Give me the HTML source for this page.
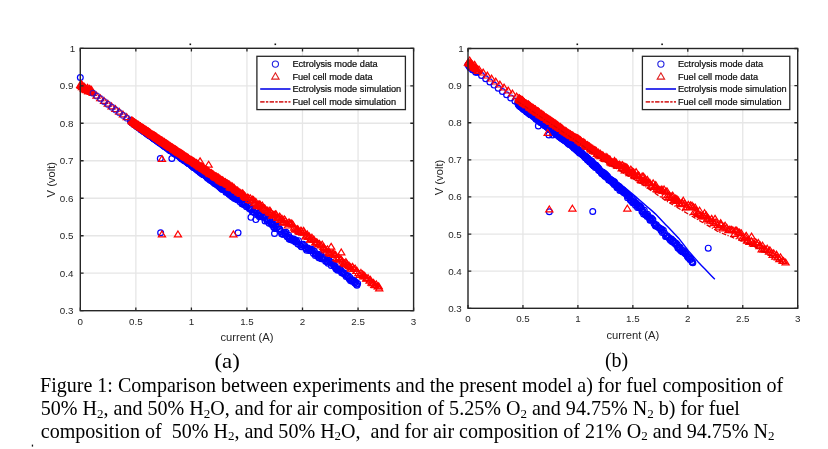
<!DOCTYPE html>
<html><head><meta charset="utf-8"><style>
html,body{margin:0;padding:0;background:#fff;width:828px;height:449px;overflow:hidden;position:relative}
.cap{position:absolute;left:40px;font-family:"Liberation Serif","Times New Roman",serif;font-size:20.06px;line-height:20px;color:#000;white-space:pre}
.cap sub{font-size:13px;vertical-align:baseline;position:relative;top:2.6px;line-height:0}
.c2{left:40.8px}
</style></head><body>
<svg width="828" height="449" viewBox="0 0 828 449" style="position:absolute;left:0;top:0">
<path d="M135.85 48.3V310.7M191.4 48.3V310.7M246.95 48.3V310.7M302.5 48.3V310.7M358.05 48.3V310.7M80.3 273.21H413.6M80.3 235.73H413.6M80.3 198.24H413.6M80.3 160.76H413.6M80.3 123.27H413.6M80.3 85.79H413.6" stroke="#e6e6e6" stroke-width="1.3" fill="none"/>
<g fill="none" stroke="#0000ff" stroke-width="1.2">
<circle cx="130.42" cy="120.38" r="2.9"/>
<circle cx="130.72" cy="120.26" r="2.9"/>
<circle cx="130.89" cy="121.5" r="2.9"/>
<circle cx="131.04" cy="121.01" r="2.9"/>
<circle cx="131.17" cy="121.67" r="2.9"/>
<circle cx="131.35" cy="121.42" r="2.9"/>
<circle cx="131.65" cy="121.91" r="2.9"/>
<circle cx="131.8" cy="122.38" r="2.9"/>
<circle cx="132.04" cy="122.58" r="2.9"/>
<circle cx="132.3" cy="122.72" r="2.9"/>
<circle cx="132.49" cy="121.8" r="2.9"/>
<circle cx="132.72" cy="122.62" r="2.9"/>
<circle cx="132.85" cy="123.15" r="2.9"/>
<circle cx="132.97" cy="122.19" r="2.9"/>
<circle cx="133.13" cy="122.18" r="2.9"/>
<circle cx="133.4" cy="123.24" r="2.9"/>
<circle cx="133.6" cy="123.89" r="2.9"/>
<circle cx="133.79" cy="123.95" r="2.9"/>
<circle cx="134.03" cy="124.31" r="2.9"/>
<circle cx="134.24" cy="124.09" r="2.9"/>
<circle cx="134.42" cy="124.63" r="2.9"/>
<circle cx="134.71" cy="124.63" r="2.9"/>
<circle cx="134.98" cy="124.82" r="2.9"/>
<circle cx="135.15" cy="124.47" r="2.9"/>
<circle cx="135.39" cy="124.17" r="2.9"/>
<circle cx="135.62" cy="124.57" r="2.9"/>
<circle cx="135.93" cy="125.34" r="2.9"/>
<circle cx="136.21" cy="125.54" r="2.9"/>
<circle cx="136.39" cy="125.49" r="2.9"/>
<circle cx="136.72" cy="125.96" r="2.9"/>
<circle cx="136.86" cy="126.12" r="2.9"/>
<circle cx="137.07" cy="126.7" r="2.9"/>
<circle cx="137.35" cy="126.57" r="2.9"/>
<circle cx="137.5" cy="125.59" r="2.9"/>
<circle cx="137.72" cy="127.07" r="2.9"/>
<circle cx="137.84" cy="126.57" r="2.9"/>
<circle cx="138.11" cy="126.56" r="2.9"/>
<circle cx="138.39" cy="126.39" r="2.9"/>
<circle cx="138.64" cy="127.59" r="2.9"/>
<circle cx="138.95" cy="127.72" r="2.9"/>
<circle cx="139.13" cy="127.89" r="2.9"/>
<circle cx="139.41" cy="127.85" r="2.9"/>
<circle cx="139.65" cy="127.95" r="2.9"/>
<circle cx="139.9" cy="127.32" r="2.9"/>
<circle cx="140.12" cy="127.65" r="2.9"/>
<circle cx="140.42" cy="127.82" r="2.9"/>
<circle cx="140.75" cy="129.41" r="2.9"/>
<circle cx="140.97" cy="129.55" r="2.9"/>
<circle cx="141.24" cy="128.67" r="2.9"/>
<circle cx="141.37" cy="128.46" r="2.9"/>
<circle cx="141.64" cy="129.33" r="2.9"/>
<circle cx="141.9" cy="129.34" r="2.9"/>
<circle cx="142.24" cy="130.52" r="2.9"/>
<circle cx="142.55" cy="130.11" r="2.9"/>
<circle cx="142.73" cy="129.38" r="2.9"/>
<circle cx="142.93" cy="129.69" r="2.9"/>
<circle cx="143.2" cy="129.83" r="2.9"/>
<circle cx="143.32" cy="129.73" r="2.9"/>
<circle cx="143.54" cy="131.05" r="2.9"/>
<circle cx="143.69" cy="131.38" r="2.9"/>
<circle cx="143.83" cy="131.41" r="2.9"/>
<circle cx="143.96" cy="130.91" r="2.9"/>
<circle cx="144.25" cy="130.86" r="2.9"/>
<circle cx="144.4" cy="130.55" r="2.9"/>
<circle cx="144.57" cy="131.02" r="2.9"/>
<circle cx="144.77" cy="131.29" r="2.9"/>
<circle cx="145.09" cy="131.33" r="2.9"/>
<circle cx="145.22" cy="131.92" r="2.9"/>
<circle cx="145.44" cy="131.92" r="2.9"/>
<circle cx="145.68" cy="132.92" r="2.9"/>
<circle cx="146" cy="131.95" r="2.9"/>
<circle cx="146.31" cy="133.06" r="2.9"/>
<circle cx="146.62" cy="132.17" r="2.9"/>
<circle cx="146.8" cy="132.74" r="2.9"/>
<circle cx="147.01" cy="133.45" r="2.9"/>
<circle cx="147.21" cy="133.88" r="2.9"/>
<circle cx="147.53" cy="133.91" r="2.9"/>
<circle cx="147.87" cy="133.52" r="2.9"/>
<circle cx="148.02" cy="133.53" r="2.9"/>
<circle cx="148.18" cy="134.6" r="2.9"/>
<circle cx="148.35" cy="134.79" r="2.9"/>
<circle cx="148.52" cy="134.17" r="2.9"/>
<circle cx="148.75" cy="134.24" r="2.9"/>
<circle cx="149" cy="134.74" r="2.9"/>
<circle cx="149.18" cy="135.13" r="2.9"/>
<circle cx="149.3" cy="134.6" r="2.9"/>
<circle cx="149.51" cy="135.72" r="2.9"/>
<circle cx="149.71" cy="135.39" r="2.9"/>
<circle cx="149.96" cy="135.3" r="2.9"/>
<circle cx="150.3" cy="134.73" r="2.9"/>
<circle cx="150.58" cy="135.44" r="2.9"/>
<circle cx="150.82" cy="135.22" r="2.9"/>
<circle cx="151.08" cy="136.08" r="2.9"/>
<circle cx="151.35" cy="136.67" r="2.9"/>
<circle cx="151.48" cy="136.74" r="2.9"/>
<circle cx="151.81" cy="135.8" r="2.9"/>
<circle cx="152.11" cy="136.44" r="2.9"/>
<circle cx="152.43" cy="137.33" r="2.9"/>
<circle cx="152.74" cy="138.02" r="2.9"/>
<circle cx="152.95" cy="137.38" r="2.9"/>
<circle cx="153.16" cy="137.24" r="2.9"/>
<circle cx="153.3" cy="137.76" r="2.9"/>
<circle cx="153.57" cy="138.22" r="2.9"/>
<circle cx="153.7" cy="137.63" r="2.9"/>
<circle cx="153.83" cy="137.3" r="2.9"/>
<circle cx="154" cy="138.58" r="2.9"/>
<circle cx="154.15" cy="139.01" r="2.9"/>
<circle cx="154.35" cy="138.65" r="2.9"/>
<circle cx="154.48" cy="138.61" r="2.9"/>
<circle cx="154.6" cy="138.25" r="2.9"/>
<circle cx="154.75" cy="139.17" r="2.9"/>
<circle cx="154.9" cy="138.27" r="2.9"/>
<circle cx="155.1" cy="138.52" r="2.9"/>
<circle cx="155.22" cy="139" r="2.9"/>
<circle cx="155.55" cy="139.73" r="2.9"/>
<circle cx="155.81" cy="138.64" r="2.9"/>
<circle cx="155.97" cy="139.85" r="2.9"/>
<circle cx="156.14" cy="139.13" r="2.9"/>
<circle cx="156.35" cy="140.26" r="2.9"/>
<circle cx="156.55" cy="140.42" r="2.9"/>
<circle cx="156.7" cy="139.62" r="2.9"/>
<circle cx="157.02" cy="140.63" r="2.9"/>
<circle cx="157.37" cy="139.78" r="2.9"/>
<circle cx="157.6" cy="140.71" r="2.9"/>
<circle cx="157.84" cy="141.4" r="2.9"/>
<circle cx="157.98" cy="141.44" r="2.9"/>
<circle cx="158.12" cy="141.21" r="2.9"/>
<circle cx="158.32" cy="140.94" r="2.9"/>
<circle cx="158.5" cy="140.59" r="2.9"/>
<circle cx="158.82" cy="142.17" r="2.9"/>
<circle cx="158.98" cy="141.87" r="2.9"/>
<circle cx="159.1" cy="142.26" r="2.9"/>
<circle cx="159.45" cy="141.22" r="2.9"/>
<circle cx="159.69" cy="142.81" r="2.9"/>
<circle cx="159.85" cy="143.07" r="2.9"/>
<circle cx="160.1" cy="143.24" r="2.9"/>
<circle cx="160.22" cy="142.76" r="2.9"/>
<circle cx="160.47" cy="142.08" r="2.9"/>
<circle cx="160.82" cy="142.36" r="2.9"/>
<circle cx="161.15" cy="142.85" r="2.9"/>
<circle cx="161.44" cy="142.6" r="2.9"/>
<circle cx="161.62" cy="142.84" r="2.9"/>
<circle cx="161.83" cy="144.02" r="2.9"/>
<circle cx="161.99" cy="144.38" r="2.9"/>
<circle cx="162.29" cy="143.32" r="2.9"/>
<circle cx="162.54" cy="143.82" r="2.9"/>
<circle cx="162.85" cy="145.26" r="2.9"/>
<circle cx="163.05" cy="144.32" r="2.9"/>
<circle cx="163.23" cy="144.94" r="2.9"/>
<circle cx="163.54" cy="145.17" r="2.9"/>
<circle cx="163.9" cy="145.5" r="2.9"/>
<circle cx="164.23" cy="146.01" r="2.9"/>
<circle cx="164.54" cy="146.53" r="2.9"/>
<circle cx="164.86" cy="146.28" r="2.9"/>
<circle cx="165.16" cy="146.37" r="2.9"/>
<circle cx="165.34" cy="145.45" r="2.9"/>
<circle cx="165.59" cy="147.07" r="2.9"/>
<circle cx="165.79" cy="145.76" r="2.9"/>
<circle cx="165.92" cy="147.16" r="2.9"/>
<circle cx="166.05" cy="147" r="2.9"/>
<circle cx="166.24" cy="146.33" r="2.9"/>
<circle cx="166.42" cy="146.46" r="2.9"/>
<circle cx="166.71" cy="147.34" r="2.9"/>
<circle cx="167.07" cy="148.26" r="2.9"/>
<circle cx="167.3" cy="147.69" r="2.9"/>
<circle cx="167.65" cy="148.11" r="2.9"/>
<circle cx="168.01" cy="147.42" r="2.9"/>
<circle cx="168.37" cy="148.94" r="2.9"/>
<circle cx="168.58" cy="148.79" r="2.9"/>
<circle cx="168.76" cy="147.99" r="2.9"/>
<circle cx="168.93" cy="149.63" r="2.9"/>
<circle cx="169.11" cy="149.09" r="2.9"/>
<circle cx="169.28" cy="148.51" r="2.9"/>
<circle cx="169.55" cy="148.79" r="2.9"/>
<circle cx="169.9" cy="150.3" r="2.9"/>
<circle cx="170.23" cy="150.55" r="2.9"/>
<circle cx="170.47" cy="150.68" r="2.9"/>
<circle cx="170.75" cy="149.37" r="2.9"/>
<circle cx="171.07" cy="150.77" r="2.9"/>
<circle cx="171.21" cy="150.01" r="2.9"/>
<circle cx="171.5" cy="149.94" r="2.9"/>
<circle cx="171.85" cy="151.18" r="2.9"/>
<circle cx="172.16" cy="151.52" r="2.9"/>
<circle cx="172.47" cy="150.53" r="2.9"/>
<circle cx="172.72" cy="151.31" r="2.9"/>
<circle cx="172.88" cy="152.06" r="2.9"/>
<circle cx="173.2" cy="151.48" r="2.9"/>
<circle cx="173.41" cy="152.34" r="2.9"/>
<circle cx="173.73" cy="152.64" r="2.9"/>
<circle cx="174.1" cy="153.38" r="2.9"/>
<circle cx="174.32" cy="152.21" r="2.9"/>
<circle cx="174.54" cy="152.08" r="2.9"/>
<circle cx="174.9" cy="152.84" r="2.9"/>
<circle cx="175.21" cy="152.51" r="2.9"/>
<circle cx="175.37" cy="154.27" r="2.9"/>
<circle cx="175.53" cy="154" r="2.9"/>
<circle cx="175.69" cy="153.69" r="2.9"/>
<circle cx="176.04" cy="153.08" r="2.9"/>
<circle cx="176.37" cy="153.32" r="2.9"/>
<circle cx="176.53" cy="154.45" r="2.9"/>
<circle cx="176.86" cy="154.93" r="2.9"/>
<circle cx="177.23" cy="154.87" r="2.9"/>
<circle cx="177.52" cy="154.96" r="2.9"/>
<circle cx="177.73" cy="154.34" r="2.9"/>
<circle cx="178" cy="155.86" r="2.9"/>
<circle cx="178.16" cy="154.86" r="2.9"/>
<circle cx="178.28" cy="155.07" r="2.9"/>
<circle cx="178.65" cy="155.18" r="2.9"/>
<circle cx="178.94" cy="155.48" r="2.9"/>
<circle cx="179.2" cy="155.96" r="2.9"/>
<circle cx="179.56" cy="156.72" r="2.9"/>
<circle cx="179.8" cy="156.91" r="2.9"/>
<circle cx="180.14" cy="157.08" r="2.9"/>
<circle cx="180.48" cy="156.56" r="2.9"/>
<circle cx="180.66" cy="157.96" r="2.9"/>
<circle cx="180.85" cy="157.88" r="2.9"/>
<circle cx="181.05" cy="157.02" r="2.9"/>
<circle cx="181.24" cy="158.07" r="2.9"/>
<circle cx="181.51" cy="158.6" r="2.9"/>
<circle cx="181.7" cy="158.79" r="2.9"/>
<circle cx="181.94" cy="158.02" r="2.9"/>
<circle cx="182.1" cy="158.54" r="2.9"/>
<circle cx="182.45" cy="157.61" r="2.9"/>
<circle cx="182.67" cy="157.94" r="2.9"/>
<circle cx="182.91" cy="157.92" r="2.9"/>
<circle cx="183.19" cy="159.44" r="2.9"/>
<circle cx="183.55" cy="160.02" r="2.9"/>
<circle cx="183.78" cy="160.17" r="2.9"/>
<circle cx="184.14" cy="159.69" r="2.9"/>
<circle cx="184.4" cy="159.49" r="2.9"/>
<circle cx="184.66" cy="160.16" r="2.9"/>
<circle cx="184.92" cy="160.74" r="2.9"/>
<circle cx="185.06" cy="160.5" r="2.9"/>
<circle cx="185.3" cy="160.29" r="2.9"/>
<circle cx="185.47" cy="160.32" r="2.9"/>
<circle cx="185.6" cy="160.28" r="2.9"/>
<circle cx="185.93" cy="160.33" r="2.9"/>
<circle cx="186.11" cy="160.79" r="2.9"/>
<circle cx="186.36" cy="161.97" r="2.9"/>
<circle cx="186.67" cy="160.87" r="2.9"/>
<circle cx="186.94" cy="162.07" r="2.9"/>
<circle cx="187.15" cy="161.72" r="2.9"/>
<circle cx="187.42" cy="162.27" r="2.9"/>
<circle cx="187.69" cy="161.78" r="2.9"/>
<circle cx="188.02" cy="163.02" r="2.9"/>
<circle cx="188.18" cy="163.04" r="2.9"/>
<circle cx="188.45" cy="163.24" r="2.9"/>
<circle cx="188.64" cy="163.55" r="2.9"/>
<circle cx="188.84" cy="162.34" r="2.9"/>
<circle cx="189.17" cy="163.14" r="2.9"/>
<circle cx="189.43" cy="163.8" r="2.9"/>
<circle cx="189.71" cy="163.86" r="2.9"/>
<circle cx="190.03" cy="162.98" r="2.9"/>
<circle cx="190.4" cy="164.15" r="2.9"/>
<circle cx="190.65" cy="164.84" r="2.9"/>
<circle cx="190.94" cy="163.97" r="2.9"/>
<circle cx="191.2" cy="164.45" r="2.9"/>
<circle cx="191.46" cy="164" r="2.9"/>
<circle cx="191.77" cy="165.91" r="2.9"/>
<circle cx="192.02" cy="165.38" r="2.9"/>
<circle cx="192.29" cy="164.91" r="2.9"/>
<circle cx="192.54" cy="165.05" r="2.9"/>
<circle cx="192.92" cy="165.16" r="2.9"/>
<circle cx="193.23" cy="167.14" r="2.9"/>
<circle cx="193.59" cy="166.9" r="2.9"/>
<circle cx="193.97" cy="167.55" r="2.9"/>
<circle cx="194.17" cy="167.55" r="2.9"/>
<circle cx="194.45" cy="166.1" r="2.9"/>
<circle cx="194.83" cy="167.2" r="2.9"/>
<circle cx="195.18" cy="166.7" r="2.9"/>
<circle cx="195.35" cy="168.04" r="2.9"/>
<circle cx="195.51" cy="167.07" r="2.9"/>
<circle cx="195.76" cy="168.17" r="2.9"/>
<circle cx="195.91" cy="168.7" r="2.9"/>
<circle cx="196.11" cy="167.69" r="2.9"/>
<circle cx="196.26" cy="167.42" r="2.9"/>
<circle cx="196.57" cy="169.55" r="2.9"/>
<circle cx="196.91" cy="168.67" r="2.9"/>
<circle cx="197.28" cy="168.88" r="2.9"/>
<circle cx="197.45" cy="169.95" r="2.9"/>
<circle cx="197.77" cy="169.84" r="2.9"/>
<circle cx="198.08" cy="170.61" r="2.9"/>
<circle cx="198.25" cy="170.59" r="2.9"/>
<circle cx="198.62" cy="170.74" r="2.9"/>
<circle cx="199.01" cy="170.18" r="2.9"/>
<circle cx="199.2" cy="170.19" r="2.9"/>
<circle cx="199.58" cy="171.59" r="2.9"/>
<circle cx="199.82" cy="172.26" r="2.9"/>
<circle cx="200.09" cy="171.65" r="2.9"/>
<circle cx="200.48" cy="171.04" r="2.9"/>
<circle cx="200.84" cy="172.59" r="2.9"/>
<circle cx="201.02" cy="172.38" r="2.9"/>
<circle cx="201.27" cy="172.86" r="2.9"/>
<circle cx="201.54" cy="171.48" r="2.9"/>
<circle cx="201.76" cy="172.3" r="2.9"/>
<circle cx="201.95" cy="173.75" r="2.9"/>
<circle cx="202.17" cy="173.81" r="2.9"/>
<circle cx="202.5" cy="173.26" r="2.9"/>
<circle cx="202.64" cy="172.93" r="2.9"/>
<circle cx="202.92" cy="172.89" r="2.9"/>
<circle cx="203.17" cy="174.61" r="2.9"/>
<circle cx="203.31" cy="174.51" r="2.9"/>
<circle cx="203.54" cy="173.17" r="2.9"/>
<circle cx="203.84" cy="174.2" r="2.9"/>
<circle cx="204.11" cy="174.77" r="2.9"/>
<circle cx="204.27" cy="174.81" r="2.9"/>
<circle cx="204.67" cy="173.23" r="2.9"/>
<circle cx="205.02" cy="175.36" r="2.9"/>
<circle cx="205.41" cy="174.9" r="2.9"/>
<circle cx="205.58" cy="175.64" r="2.9"/>
<circle cx="205.79" cy="175.62" r="2.9"/>
<circle cx="205.93" cy="174.37" r="2.9"/>
<circle cx="206.28" cy="174.21" r="2.9"/>
<circle cx="206.49" cy="176.29" r="2.9"/>
<circle cx="206.66" cy="176.93" r="2.9"/>
<circle cx="206.91" cy="175.48" r="2.9"/>
<circle cx="207.3" cy="177.39" r="2.9"/>
<circle cx="207.66" cy="178.29" r="2.9"/>
<circle cx="207.86" cy="175.6" r="2.9"/>
<circle cx="208.04" cy="177.25" r="2.9"/>
<circle cx="208.43" cy="176.26" r="2.9"/>
<circle cx="208.72" cy="177.81" r="2.9"/>
<circle cx="209.05" cy="176.49" r="2.9"/>
<circle cx="209.21" cy="177.99" r="2.9"/>
<circle cx="209.36" cy="179.08" r="2.9"/>
<circle cx="209.69" cy="179.82" r="2.9"/>
<circle cx="209.94" cy="178.22" r="2.9"/>
<circle cx="210.1" cy="178.04" r="2.9"/>
<circle cx="210.5" cy="177.41" r="2.9"/>
<circle cx="210.81" cy="180.42" r="2.9"/>
<circle cx="211.17" cy="178.87" r="2.9"/>
<circle cx="211.33" cy="179.85" r="2.9"/>
<circle cx="211.7" cy="179.66" r="2.9"/>
<circle cx="211.86" cy="181.02" r="2.9"/>
<circle cx="212.23" cy="180.83" r="2.9"/>
<circle cx="212.5" cy="180.18" r="2.9"/>
<circle cx="212.73" cy="178.91" r="2.9"/>
<circle cx="213.02" cy="182.04" r="2.9"/>
<circle cx="213.42" cy="180.96" r="2.9"/>
<circle cx="213.63" cy="179.98" r="2.9"/>
<circle cx="213.81" cy="179.51" r="2.9"/>
<circle cx="214.09" cy="182.53" r="2.9"/>
<circle cx="214.3" cy="182.94" r="2.9"/>
<circle cx="214.47" cy="180.06" r="2.9"/>
<circle cx="214.66" cy="180.07" r="2.9"/>
<circle cx="214.81" cy="182.01" r="2.9"/>
<circle cx="215.01" cy="183.76" r="2.9"/>
<circle cx="215.24" cy="180.66" r="2.9"/>
<circle cx="215.47" cy="182.85" r="2.9"/>
<circle cx="215.84" cy="181.15" r="2.9"/>
<circle cx="216.07" cy="182.4" r="2.9"/>
<circle cx="216.36" cy="181.82" r="2.9"/>
<circle cx="216.56" cy="184.52" r="2.9"/>
<circle cx="216.8" cy="182.29" r="2.9"/>
<circle cx="216.96" cy="184.59" r="2.9"/>
<circle cx="217.18" cy="184.04" r="2.9"/>
<circle cx="217.33" cy="182.42" r="2.9"/>
<circle cx="217.7" cy="182.75" r="2.9"/>
<circle cx="218.02" cy="185.54" r="2.9"/>
<circle cx="218.23" cy="185.55" r="2.9"/>
<circle cx="218.52" cy="185.05" r="2.9"/>
<circle cx="218.96" cy="184.89" r="2.9"/>
<circle cx="219.15" cy="185.58" r="2.9"/>
<circle cx="219.56" cy="186.94" r="2.9"/>
<circle cx="219.85" cy="186.65" r="2.9"/>
<circle cx="220.16" cy="184.91" r="2.9"/>
<circle cx="220.58" cy="184.49" r="2.9"/>
<circle cx="220.87" cy="188.28" r="2.9"/>
<circle cx="221.19" cy="186.33" r="2.9"/>
<circle cx="221.58" cy="185.78" r="2.9"/>
<circle cx="222.06" cy="189.21" r="2.9"/>
<circle cx="222.34" cy="185.97" r="2.9"/>
<circle cx="222.78" cy="189.41" r="2.9"/>
<circle cx="223.19" cy="187.61" r="2.9"/>
<circle cx="223.57" cy="188.11" r="2.9"/>
<circle cx="223.88" cy="187.99" r="2.9"/>
<circle cx="224.17" cy="189.63" r="2.9"/>
<circle cx="224.36" cy="189.26" r="2.9"/>
<circle cx="224.58" cy="188.69" r="2.9"/>
<circle cx="224.78" cy="189.54" r="2.9"/>
<circle cx="225.22" cy="188.81" r="2.9"/>
<circle cx="225.49" cy="189.96" r="2.9"/>
<circle cx="225.72" cy="190.17" r="2.9"/>
<circle cx="225.93" cy="192.2" r="2.9"/>
<circle cx="226.42" cy="189.86" r="2.9"/>
<circle cx="226.92" cy="190.81" r="2.9"/>
<circle cx="227.35" cy="192.28" r="2.9"/>
<circle cx="227.64" cy="190.1" r="2.9"/>
<circle cx="227.92" cy="190.23" r="2.9"/>
<circle cx="228.22" cy="191.91" r="2.9"/>
<circle cx="228.59" cy="193.44" r="2.9"/>
<circle cx="228.85" cy="192.29" r="2.9"/>
<circle cx="229.21" cy="194.23" r="2.9"/>
<circle cx="229.51" cy="194.35" r="2.9"/>
<circle cx="230.09" cy="193.4" r="2.9"/>
<circle cx="230.68" cy="195.38" r="2.9"/>
<circle cx="231.11" cy="194.09" r="2.9"/>
<circle cx="231.42" cy="194" r="2.9"/>
<circle cx="232.03" cy="196.6" r="2.9"/>
<circle cx="232.37" cy="194.11" r="2.9"/>
<circle cx="232.74" cy="196.93" r="2.9"/>
<circle cx="232.96" cy="194.09" r="2.9"/>
<circle cx="233.34" cy="194.17" r="2.9"/>
<circle cx="233.77" cy="195.71" r="2.9"/>
<circle cx="234.22" cy="198.15" r="2.9"/>
<circle cx="234.53" cy="196.3" r="2.9"/>
<circle cx="234.99" cy="197.22" r="2.9"/>
<circle cx="235.23" cy="194.73" r="2.9"/>
<circle cx="235.58" cy="198.77" r="2.9"/>
<circle cx="235.86" cy="195.63" r="2.9"/>
<circle cx="236.29" cy="195.29" r="2.9"/>
<circle cx="236.55" cy="196.71" r="2.9"/>
<circle cx="236.81" cy="196.51" r="2.9"/>
<circle cx="237.2" cy="199.69" r="2.9"/>
<circle cx="237.57" cy="196.28" r="2.9"/>
<circle cx="238.12" cy="198.96" r="2.9"/>
<circle cx="238.64" cy="197.17" r="2.9"/>
<circle cx="239.3" cy="197.84" r="2.9"/>
<circle cx="239.92" cy="201.82" r="2.9"/>
<circle cx="240.59" cy="199.37" r="2.9"/>
<circle cx="241.36" cy="199.26" r="2.9"/>
<circle cx="241.88" cy="203.72" r="2.9"/>
<circle cx="242.36" cy="202.73" r="2.9"/>
<circle cx="243.26" cy="201.46" r="2.9"/>
<circle cx="243.66" cy="204.59" r="2.9"/>
<circle cx="244.44" cy="201.65" r="2.9"/>
<circle cx="245.19" cy="205.16" r="2.9"/>
<circle cx="245.57" cy="202.85" r="2.9"/>
<circle cx="246.49" cy="206.74" r="2.9"/>
<circle cx="247.5" cy="205.77" r="2.9"/>
<circle cx="248.33" cy="204.38" r="2.9"/>
<circle cx="249.25" cy="208.5" r="2.9"/>
<circle cx="250.23" cy="208.97" r="2.9"/>
<circle cx="250.71" cy="208.15" r="2.9"/>
<circle cx="251.47" cy="209.63" r="2.9"/>
<circle cx="252.22" cy="211.57" r="2.9"/>
<circle cx="253.22" cy="211.62" r="2.9"/>
<circle cx="254.21" cy="212.46" r="2.9"/>
<circle cx="255.2" cy="209.41" r="2.9"/>
<circle cx="256.02" cy="211.28" r="2.9"/>
<circle cx="257.08" cy="211.01" r="2.9"/>
<circle cx="257.98" cy="215.27" r="2.9"/>
<circle cx="258.88" cy="212.9" r="2.9"/>
<circle cx="259.44" cy="216.64" r="2.9"/>
<circle cx="259.85" cy="214.88" r="2.9"/>
<circle cx="260.33" cy="214.72" r="2.9"/>
<circle cx="260.99" cy="216.59" r="2.9"/>
<circle cx="261.45" cy="214.38" r="2.9"/>
<circle cx="262.48" cy="216.73" r="2.9"/>
<circle cx="263.29" cy="217.22" r="2.9"/>
<circle cx="264.16" cy="216.35" r="2.9"/>
<circle cx="265.03" cy="220.92" r="2.9"/>
<circle cx="265.95" cy="217.12" r="2.9"/>
<circle cx="266.71" cy="219.53" r="2.9"/>
<circle cx="267.11" cy="221.01" r="2.9"/>
<circle cx="268.12" cy="219.72" r="2.9"/>
<circle cx="269.09" cy="223.16" r="2.9"/>
<circle cx="269.87" cy="220.05" r="2.9"/>
<circle cx="270.69" cy="222.77" r="2.9"/>
<circle cx="271.6" cy="224.56" r="2.9"/>
<circle cx="272.04" cy="222.82" r="2.9"/>
<circle cx="273.02" cy="225.21" r="2.9"/>
<circle cx="273.61" cy="227.02" r="2.9"/>
<circle cx="274.06" cy="224.44" r="2.9"/>
<circle cx="274.67" cy="228.49" r="2.9"/>
<circle cx="275.65" cy="225.22" r="2.9"/>
<circle cx="276.21" cy="228.58" r="2.9"/>
<circle cx="277.2" cy="227.32" r="2.9"/>
<circle cx="278.37" cy="226.4" r="2.9"/>
<circle cx="279.17" cy="229.07" r="2.9"/>
<circle cx="279.88" cy="229.2" r="2.9"/>
<circle cx="280.67" cy="231.58" r="2.9"/>
<circle cx="281.62" cy="233.85" r="2.9"/>
<circle cx="282.64" cy="234.37" r="2.9"/>
<circle cx="283.55" cy="234.37" r="2.9"/>
<circle cx="284.48" cy="232.59" r="2.9"/>
<circle cx="284.95" cy="233.86" r="2.9"/>
<circle cx="285.47" cy="233.81" r="2.9"/>
<circle cx="286.09" cy="232.27" r="2.9"/>
<circle cx="287.11" cy="236.86" r="2.9"/>
<circle cx="287.76" cy="236.82" r="2.9"/>
<circle cx="288.64" cy="235.26" r="2.9"/>
<circle cx="289.06" cy="238.73" r="2.9"/>
<circle cx="289.53" cy="239.14" r="2.9"/>
<circle cx="290.16" cy="237.79" r="2.9"/>
<circle cx="291.13" cy="239.7" r="2.9"/>
<circle cx="292.12" cy="239.11" r="2.9"/>
<circle cx="293.09" cy="240.43" r="2.9"/>
<circle cx="293.75" cy="239.1" r="2.9"/>
<circle cx="294.6" cy="239.65" r="2.9"/>
<circle cx="295.41" cy="242.09" r="2.9"/>
<circle cx="296.22" cy="240.59" r="2.9"/>
<circle cx="296.74" cy="241.67" r="2.9"/>
<circle cx="297.91" cy="244.12" r="2.9"/>
<circle cx="298.5" cy="240.64" r="2.9"/>
<circle cx="299.75" cy="244.83" r="2.9"/>
<circle cx="300.97" cy="246.11" r="2.9"/>
<circle cx="301.41" cy="246.66" r="2.9"/>
<circle cx="302.22" cy="244.63" r="2.9"/>
<circle cx="303.35" cy="244.25" r="2.9"/>
<circle cx="304.6" cy="245.45" r="2.9"/>
<circle cx="305.4" cy="247.73" r="2.9"/>
<circle cx="306.04" cy="248.77" r="2.9"/>
<circle cx="306.63" cy="250.32" r="2.9"/>
<circle cx="307.83" cy="248.12" r="2.9"/>
<circle cx="308.42" cy="248.86" r="2.9"/>
<circle cx="309.31" cy="250.39" r="2.9"/>
<circle cx="309.83" cy="249.36" r="2.9"/>
<circle cx="310.66" cy="250.8" r="2.9"/>
<circle cx="311.84" cy="249.29" r="2.9"/>
<circle cx="312.35" cy="250.53" r="2.9"/>
<circle cx="313.4" cy="253.38" r="2.9"/>
<circle cx="314.21" cy="250.94" r="2.9"/>
<circle cx="315.3" cy="255.45" r="2.9"/>
<circle cx="316.25" cy="253.87" r="2.9"/>
<circle cx="316.82" cy="254.78" r="2.9"/>
<circle cx="317.9" cy="256.18" r="2.9"/>
<circle cx="318.67" cy="257.42" r="2.9"/>
<circle cx="319.07" cy="254.56" r="2.9"/>
<circle cx="319.46" cy="258.1" r="2.9"/>
<circle cx="320.21" cy="256.25" r="2.9"/>
<circle cx="320.94" cy="255.05" r="2.9"/>
<circle cx="321.55" cy="258.81" r="2.9"/>
<circle cx="322.03" cy="258.87" r="2.9"/>
<circle cx="322.66" cy="257.54" r="2.9"/>
<circle cx="323.28" cy="258.34" r="2.9"/>
<circle cx="324.28" cy="258.41" r="2.9"/>
<circle cx="324.65" cy="257.93" r="2.9"/>
<circle cx="325.58" cy="261.13" r="2.9"/>
<circle cx="326.57" cy="261.19" r="2.9"/>
<circle cx="327.03" cy="261.51" r="2.9"/>
<circle cx="328.08" cy="263.17" r="2.9"/>
<circle cx="328.98" cy="260.37" r="2.9"/>
<circle cx="330.02" cy="261.44" r="2.9"/>
<circle cx="330.61" cy="262.14" r="2.9"/>
<circle cx="331.25" cy="265.44" r="2.9"/>
<circle cx="331.91" cy="262.71" r="2.9"/>
<circle cx="333.02" cy="264" r="2.9"/>
<circle cx="333.83" cy="265.73" r="2.9"/>
<circle cx="334.47" cy="265.2" r="2.9"/>
<circle cx="335.16" cy="266.85" r="2.9"/>
<circle cx="335.73" cy="268.16" r="2.9"/>
<circle cx="336.14" cy="268.94" r="2.9"/>
<circle cx="336.58" cy="268.82" r="2.9"/>
<circle cx="337.57" cy="270.33" r="2.9"/>
<circle cx="338.15" cy="269.7" r="2.9"/>
<circle cx="339.21" cy="269.05" r="2.9"/>
<circle cx="339.77" cy="269.7" r="2.9"/>
<circle cx="340.34" cy="269.62" r="2.9"/>
<circle cx="341.09" cy="270.72" r="2.9"/>
<circle cx="341.6" cy="272.72" r="2.9"/>
<circle cx="342.24" cy="272.22" r="2.9"/>
<circle cx="343.32" cy="273.51" r="2.9"/>
<circle cx="344.35" cy="273.12" r="2.9"/>
<circle cx="345.32" cy="274.82" r="2.9"/>
<circle cx="346.16" cy="276.38" r="2.9"/>
<circle cx="347.2" cy="275.95" r="2.9"/>
<circle cx="348.27" cy="275.74" r="2.9"/>
<circle cx="349.05" cy="278.85" r="2.9"/>
<circle cx="349.95" cy="277.41" r="2.9"/>
<circle cx="350.36" cy="280.56" r="2.9"/>
<circle cx="351.27" cy="280.49" r="2.9"/>
<circle cx="351.98" cy="281.14" r="2.9"/>
<circle cx="352.9" cy="280.27" r="2.9"/>
<circle cx="353.75" cy="280.33" r="2.9"/>
<circle cx="354.33" cy="281.43" r="2.9"/>
<circle cx="354.74" cy="283.07" r="2.9"/>
<circle cx="355.8" cy="282.22" r="2.9"/>
<circle cx="356.26" cy="284.29" r="2.9"/>
<circle cx="356.98" cy="285.14" r="2.9"/>
<circle cx="357.61" cy="283.62" r="2.9"/>
<circle cx="80.3" cy="77.54" r="2.9"/>
<circle cx="160.29" cy="158.51" r="2.9"/>
<circle cx="171.85" cy="158.51" r="2.9"/>
<circle cx="160.63" cy="232.73" r="2.9"/>
<circle cx="238.06" cy="232.73" r="2.9"/>
<circle cx="250.95" cy="217.36" r="2.9"/>
<circle cx="255.84" cy="219.61" r="2.9"/>
<circle cx="274.5" cy="233.48" r="2.9"/>
</g>
<g fill="none" stroke="#ff0000" stroke-width="1.2">
<path d="M92.74 89.53L96.34 95.37L89.14 95.37Z"/>
<path d="M96.52 92.23L100.12 98.06L92.92 98.06Z"/>
<path d="M100.3 94.92L103.9 100.75L96.7 100.75Z"/>
<path d="M104.08 97.61L107.68 103.44L100.48 103.44Z"/>
<path d="M107.85 100.3L111.45 106.13L104.25 106.13Z"/>
<path d="M111.63 102.99L115.23 108.82L108.03 108.82Z"/>
<path d="M115.41 105.68L119.01 111.51L111.81 111.51Z"/>
<path d="M119.19 108.37L122.78 114.2L115.59 114.2Z"/>
<path d="M122.96 111.06L126.56 116.89L119.36 116.89Z"/>
<path d="M126.74 113.75L130.34 119.58L123.14 119.58Z"/>
<path d="M131.66 117.08L135.26 122.91L128.06 122.91Z"/>
<path d="M131.92 117.7L135.52 123.53L128.32 123.53Z"/>
<path d="M132.18 117.62L135.78 123.45L128.58 123.45Z"/>
<path d="M132.51 117.61L136.11 123.45L128.91 123.45Z"/>
<path d="M132.73 117.78L136.33 123.62L129.13 123.62Z"/>
<path d="M133.03 118.3L136.63 124.13L129.43 124.13Z"/>
<path d="M133.3 118.53L136.9 124.36L129.7 124.36Z"/>
<path d="M133.6 118.67L137.2 124.5L130 124.5Z"/>
<path d="M133.81 119.14L137.41 124.97L130.21 124.97Z"/>
<path d="M134.09 119.34L137.69 125.18L130.49 125.18Z"/>
<path d="M134.33 119.53L137.93 125.36L130.73 125.36Z"/>
<path d="M134.51 119.25L138.11 125.08L130.91 125.08Z"/>
<path d="M134.67 119.64L138.27 125.47L131.07 125.47Z"/>
<path d="M134.92 119.66L138.52 125.5L131.32 125.5Z"/>
<path d="M135.05 119.89L138.65 125.72L131.45 125.72Z"/>
<path d="M135.37 120.03L138.97 125.87L131.77 125.87Z"/>
<path d="M135.51 120.44L139.11 126.27L131.91 126.27Z"/>
<path d="M135.63 120.61L139.23 126.44L132.03 126.44Z"/>
<path d="M135.77 119.94L139.37 125.77L132.17 125.77Z"/>
<path d="M136.09 120.67L139.69 126.5L132.49 126.5Z"/>
<path d="M136.28 121.01L139.88 126.84L132.68 126.84Z"/>
<path d="M136.42 120.68L140.02 126.51L132.82 126.51Z"/>
<path d="M136.54 120.63L140.14 126.46L132.94 126.46Z"/>
<path d="M136.66 121.23L140.26 127.06L133.06 127.06Z"/>
<path d="M136.93 121.04L140.53 126.88L133.33 126.88Z"/>
<path d="M137.19 121.42L140.79 127.25L133.59 127.25Z"/>
<path d="M137.46 121.45L141.06 127.29L133.86 127.29Z"/>
<path d="M137.74 122.05L141.34 127.88L134.14 127.88Z"/>
<path d="M137.87 122.12L141.47 127.96L134.27 127.96Z"/>
<path d="M138.11 121.5L141.71 127.33L134.51 127.33Z"/>
<path d="M138.31 121.73L141.91 127.56L134.71 127.56Z"/>
<path d="M138.61 122.24L142.21 128.07L135.01 128.07Z"/>
<path d="M138.91 122.37L142.51 128.2L135.31 128.2Z"/>
<path d="M139.22 122.84L142.82 128.67L135.62 128.67Z"/>
<path d="M139.35 122.49L142.95 128.32L135.75 128.32Z"/>
<path d="M139.66 122.99L143.26 128.82L136.06 128.82Z"/>
<path d="M139.98 122.77L143.58 128.6L136.38 128.6Z"/>
<path d="M140.31 123.13L143.91 128.97L136.71 128.97Z"/>
<path d="M140.45 123.18L144.05 129.01L136.85 129.01Z"/>
<path d="M140.61 123.17L144.21 129L137.01 129Z"/>
<path d="M140.75 123.85L144.35 129.69L137.15 129.69Z"/>
<path d="M140.87 124.12L144.47 129.95L137.27 129.95Z"/>
<path d="M141.18 124.18L144.78 130.01L137.58 130.01Z"/>
<path d="M141.48 124.4L145.08 130.23L137.88 130.23Z"/>
<path d="M141.74 124.65L145.34 130.48L138.14 130.48Z"/>
<path d="M142.04 124.88L145.64 130.71L138.44 130.71Z"/>
<path d="M142.3 124.62L145.9 130.45L138.7 130.45Z"/>
<path d="M142.48 124.48L146.08 130.31L138.88 130.31Z"/>
<path d="M142.62 124.92L146.22 130.75L139.02 130.75Z"/>
<path d="M142.75 124.59L146.35 130.42L139.15 130.42Z"/>
<path d="M143.04 124.81L146.64 130.65L139.44 130.65Z"/>
<path d="M143.2 125.64L146.8 131.47L139.6 131.47Z"/>
<path d="M143.39 125.31L146.99 131.14L139.79 131.14Z"/>
<path d="M143.6 125.62L147.2 131.45L140 131.45Z"/>
<path d="M143.72 125.94L147.32 131.77L140.12 131.77Z"/>
<path d="M143.9 125.33L147.5 131.17L140.3 131.17Z"/>
<path d="M144.08 126.06L147.68 131.89L140.48 131.89Z"/>
<path d="M144.36 125.98L147.96 131.81L140.76 131.81Z"/>
<path d="M144.56 126.04L148.16 131.87L140.96 131.87Z"/>
<path d="M144.74 125.89L148.34 131.73L141.14 131.73Z"/>
<path d="M145.08 126.36L148.68 132.2L141.48 132.2Z"/>
<path d="M145.31 126.76L148.91 132.59L141.71 132.59Z"/>
<path d="M145.62 126.91L149.22 132.75L142.02 132.75Z"/>
<path d="M145.88 127.34L149.48 133.17L142.28 133.17Z"/>
<path d="M146 126.72L149.6 132.55L142.4 132.55Z"/>
<path d="M146.22 126.83L149.82 132.67L142.62 132.67Z"/>
<path d="M146.43 127.65L150.03 133.48L142.83 133.48Z"/>
<path d="M146.73 128L150.33 133.83L143.13 133.83Z"/>
<path d="M146.92 127.94L150.52 133.77L143.32 133.77Z"/>
<path d="M147.2 128.04L150.8 133.87L143.6 133.87Z"/>
<path d="M147.44 127.72L151.04 133.55L143.84 133.55Z"/>
<path d="M147.61 127.83L151.21 133.66L144.01 133.66Z"/>
<path d="M147.92 128.09L151.52 133.93L144.32 133.93Z"/>
<path d="M148.06 128.88L151.66 134.71L144.46 134.71Z"/>
<path d="M148.37 128.43L151.97 134.26L144.77 134.26Z"/>
<path d="M148.52 128.6L152.12 134.43L144.92 134.43Z"/>
<path d="M148.64 128.73L152.24 134.57L145.04 134.57Z"/>
<path d="M148.8 128.54L152.4 134.37L145.2 134.37Z"/>
<path d="M149.1 129.56L152.7 135.39L145.5 135.39Z"/>
<path d="M149.44 129.71L153.04 135.54L145.84 135.54Z"/>
<path d="M149.56 129.24L153.16 135.08L145.96 135.08Z"/>
<path d="M149.79 129.23L153.39 135.06L146.19 135.06Z"/>
<path d="M150.02 129.62L153.62 135.45L146.42 135.45Z"/>
<path d="M150.32 130.16L153.92 135.99L146.72 135.99Z"/>
<path d="M150.48 130L154.08 135.83L146.88 135.83Z"/>
<path d="M150.71 130L154.31 135.84L147.11 135.84Z"/>
<path d="M150.91 130.72L154.51 136.55L147.31 136.55Z"/>
<path d="M151.22 130.73L154.82 136.56L147.62 136.56Z"/>
<path d="M151.4 130.91L155 136.74L147.8 136.74Z"/>
<path d="M151.74 131.25L155.34 137.08L148.14 137.08Z"/>
<path d="M151.92 131.05L155.52 136.88L148.32 136.88Z"/>
<path d="M152.09 131.45L155.69 137.28L148.49 137.28Z"/>
<path d="M152.37 131.57L155.97 137.4L148.77 137.4Z"/>
<path d="M152.6 131.81L156.2 137.64L149 137.64Z"/>
<path d="M152.75 131.42L156.35 137.25L149.15 137.25Z"/>
<path d="M153.01 132.2L156.61 138.03L149.41 138.03Z"/>
<path d="M153.15 131.65L156.75 137.48L149.55 137.48Z"/>
<path d="M153.45 132.33L157.05 138.16L149.85 138.16Z"/>
<path d="M153.74 132.66L157.34 138.49L150.14 138.49Z"/>
<path d="M154.04 132.04L157.64 137.88L150.44 137.88Z"/>
<path d="M154.3 132.87L157.9 138.7L150.7 138.7Z"/>
<path d="M154.51 132.35L158.11 138.18L150.91 138.18Z"/>
<path d="M154.72 132.55L158.32 138.38L151.12 138.38Z"/>
<path d="M154.93 132.67L158.53 138.5L151.33 138.5Z"/>
<path d="M155.26 133.57L158.86 139.41L151.66 139.41Z"/>
<path d="M155.4 133.38L159 139.21L151.8 139.21Z"/>
<path d="M155.73 133.92L159.33 139.75L152.13 139.75Z"/>
<path d="M155.85 133.24L159.45 139.07L152.25 139.07Z"/>
<path d="M156.02 133.43L159.62 139.26L152.42 139.26Z"/>
<path d="M156.2 133.74L159.8 139.58L152.6 139.58Z"/>
<path d="M156.53 134.13L160.13 139.96L152.93 139.96Z"/>
<path d="M156.77 134.39L160.37 140.22L153.17 140.22Z"/>
<path d="M156.98 134.08L160.58 139.91L153.38 139.91Z"/>
<path d="M157.3 134.62L160.9 140.45L153.7 140.45Z"/>
<path d="M157.48 134.59L161.08 140.42L153.88 140.42Z"/>
<path d="M157.71 135.19L161.31 141.03L154.11 141.03Z"/>
<path d="M157.95 135.28L161.55 141.12L154.35 141.12Z"/>
<path d="M158.25 135.64L161.85 141.47L154.65 141.47Z"/>
<path d="M158.55 135.22L162.15 141.05L154.95 141.05Z"/>
<path d="M158.82 135.55L162.42 141.38L155.22 141.38Z"/>
<path d="M159.02 136.07L162.62 141.9L155.42 141.9Z"/>
<path d="M159.22 135.51L162.82 141.34L155.62 141.34Z"/>
<path d="M159.38 136.19L162.98 142.02L155.78 142.02Z"/>
<path d="M159.7 136.26L163.3 142.09L156.1 142.09Z"/>
<path d="M159.98 136.69L163.58 142.52L156.38 142.52Z"/>
<path d="M160.27 136.78L163.87 142.61L156.67 142.61Z"/>
<path d="M160.43 136.34L164.03 142.17L156.83 142.17Z"/>
<path d="M160.66 136.97L164.26 142.8L157.06 142.8Z"/>
<path d="M160.96 137.33L164.56 143.16L157.36 143.16Z"/>
<path d="M161.22 137.19L164.82 143.03L157.62 143.03Z"/>
<path d="M161.37 137.46L164.97 143.29L157.77 143.29Z"/>
<path d="M161.6 137.05L165.2 142.88L158 142.88Z"/>
<path d="M161.94 138.03L165.54 143.86L158.34 143.86Z"/>
<path d="M162.12 137.32L165.72 143.15L158.52 143.15Z"/>
<path d="M162.28 138.31L165.88 144.14L158.68 144.14Z"/>
<path d="M162.47 137.63L166.07 143.47L158.87 143.47Z"/>
<path d="M162.76 138.04L166.36 143.87L159.16 143.87Z"/>
<path d="M163.09 138.7L166.69 144.53L159.49 144.53Z"/>
<path d="M163.25 138.55L166.85 144.38L159.65 144.38Z"/>
<path d="M163.4 138.83L167 144.67L159.8 144.67Z"/>
<path d="M163.58 138.98L167.18 144.81L159.98 144.81Z"/>
<path d="M163.78 139.17L167.38 145L160.18 145Z"/>
<path d="M164.03 139.17L167.63 145.01L160.43 145.01Z"/>
<path d="M164.19 138.67L167.79 144.5L160.59 144.5Z"/>
<path d="M164.39 138.8L167.99 144.63L160.79 144.63Z"/>
<path d="M164.56 138.98L168.16 144.81L160.96 144.81Z"/>
<path d="M164.92 140.02L168.52 145.85L161.32 145.85Z"/>
<path d="M165.21 140.03L168.81 145.86L161.61 145.86Z"/>
<path d="M165.36 139.53L168.96 145.37L161.76 145.37Z"/>
<path d="M165.71 140.59L169.31 146.42L162.11 146.42Z"/>
<path d="M165.86 140.03L169.46 145.86L162.26 145.86Z"/>
<path d="M166.07 140.6L169.67 146.43L162.47 146.43Z"/>
<path d="M166.44 140.16L170.04 145.99L162.84 145.99Z"/>
<path d="M166.75 141.32L170.35 147.15L163.15 147.15Z"/>
<path d="M167.05 140.74L170.65 146.57L163.45 146.57Z"/>
<path d="M167.28 141.35L170.88 147.18L163.68 147.18Z"/>
<path d="M167.45 141.66L171.05 147.49L163.85 147.49Z"/>
<path d="M167.73 141.98L171.33 147.81L164.13 147.81Z"/>
<path d="M167.87 141.25L171.47 147.09L164.27 147.09Z"/>
<path d="M168.05 141.67L171.65 147.5L164.45 147.5Z"/>
<path d="M168.26 142.15L171.86 147.99L164.66 147.99Z"/>
<path d="M168.39 141.99L171.99 147.82L164.79 147.82Z"/>
<path d="M168.61 141.66L172.21 147.5L165.01 147.5Z"/>
<path d="M168.93 142.56L172.53 148.4L165.33 148.4Z"/>
<path d="M169.22 142.4L172.82 148.24L165.62 148.24Z"/>
<path d="M169.47 143L173.07 148.83L165.87 148.83Z"/>
<path d="M169.75 143.14L173.35 148.97L166.15 148.97Z"/>
<path d="M169.98 142.71L173.58 148.54L166.38 148.54Z"/>
<path d="M170.14 142.87L173.74 148.7L166.54 148.7Z"/>
<path d="M170.41 143.57L174.01 149.4L166.81 149.4Z"/>
<path d="M170.63 143.83L174.23 149.66L167.03 149.66Z"/>
<path d="M170.94 144.03L174.54 149.86L167.34 149.86Z"/>
<path d="M171.28 143.73L174.88 149.56L167.68 149.56Z"/>
<path d="M171.51 144L175.11 149.83L167.91 149.83Z"/>
<path d="M171.78 144.4L175.38 150.23L168.18 150.23Z"/>
<path d="M172.09 144.67L175.69 150.5L168.49 150.5Z"/>
<path d="M172.31 144.41L175.91 150.24L168.71 150.24Z"/>
<path d="M172.49 144.43L176.09 150.26L168.89 150.26Z"/>
<path d="M172.8 144.52L176.4 150.35L169.2 150.35Z"/>
<path d="M173.14 144.98L176.74 150.81L169.54 150.81Z"/>
<path d="M173.45 145.58L177.05 151.41L169.85 151.41Z"/>
<path d="M173.75 145.92L177.35 151.75L170.15 151.75Z"/>
<path d="M174.09 145.45L177.69 151.29L170.49 151.29Z"/>
<path d="M174.38 145.98L177.98 151.81L170.78 151.81Z"/>
<path d="M174.66 145.85L178.26 151.68L171.06 151.68Z"/>
<path d="M174.9 146.69L178.5 152.52L171.3 152.52Z"/>
<path d="M175.1 146.04L178.7 151.88L171.5 151.88Z"/>
<path d="M175.38 146.72L178.98 152.55L171.78 152.55Z"/>
<path d="M175.53 146.3L179.13 152.13L171.93 152.13Z"/>
<path d="M175.76 146.42L179.36 152.25L172.16 152.25Z"/>
<path d="M176.08 147.02L179.68 152.85L172.48 152.85Z"/>
<path d="M176.38 147.72L179.98 153.55L172.78 153.55Z"/>
<path d="M176.67 146.97L180.27 152.8L173.07 152.8Z"/>
<path d="M176.85 147.55L180.45 153.38L173.25 153.38Z"/>
<path d="M177.09 147.29L180.69 153.12L173.49 153.12Z"/>
<path d="M177.32 148.08L180.92 153.91L173.72 153.91Z"/>
<path d="M177.61 148.35L181.21 154.18L174.01 154.18Z"/>
<path d="M177.83 147.82L181.43 153.65L174.23 153.65Z"/>
<path d="M178.13 148.51L181.73 154.34L174.53 154.34Z"/>
<path d="M178.49 148.96L182.09 154.79L174.89 154.79Z"/>
<path d="M178.66 148.85L182.26 154.68L175.06 154.68Z"/>
<path d="M178.95 148.81L182.55 154.64L175.35 154.64Z"/>
<path d="M179.27 149.64L182.87 155.48L175.67 155.48Z"/>
<path d="M179.49 149.25L183.09 155.08L175.89 155.08Z"/>
<path d="M179.74 149.49L183.34 155.32L176.14 155.32Z"/>
<path d="M180.12 149.66L183.72 155.5L176.52 155.5Z"/>
<path d="M180.25 150.17L183.85 156L176.65 156Z"/>
<path d="M180.51 149.72L184.11 155.55L176.91 155.55Z"/>
<path d="M180.68 149.72L184.28 155.55L177.08 155.55Z"/>
<path d="M181.01 149.88L184.61 155.71L177.41 155.71Z"/>
<path d="M181.37 150.7L184.97 156.53L177.77 156.53Z"/>
<path d="M181.63 150.45L185.23 156.29L178.03 156.29Z"/>
<path d="M181.78 150.91L185.38 156.74L178.18 156.74Z"/>
<path d="M182.05 150.69L185.65 156.52L178.45 156.52Z"/>
<path d="M182.32 151.61L185.92 157.44L178.72 157.44Z"/>
<path d="M182.63 150.94L186.23 156.77L179.03 156.77Z"/>
<path d="M182.88 151.02L186.48 156.85L179.28 156.85Z"/>
<path d="M183.17 151.71L186.77 157.54L179.57 157.54Z"/>
<path d="M183.51 151.91L187.11 157.74L179.91 157.74Z"/>
<path d="M183.77 152.06L187.37 157.9L180.17 157.9Z"/>
<path d="M184 152.21L187.6 158.04L180.4 158.04Z"/>
<path d="M184.37 153.02L187.97 158.85L180.77 158.85Z"/>
<path d="M184.55 152.11L188.15 157.94L180.95 157.94Z"/>
<path d="M184.86 153.12L188.46 158.95L181.26 158.95Z"/>
<path d="M185.09 153.31L188.69 159.14L181.49 159.14Z"/>
<path d="M185.41 153.61L189.01 159.45L181.81 159.45Z"/>
<path d="M185.57 153.56L189.17 159.39L181.97 159.39Z"/>
<path d="M185.95 153.19L189.55 159.02L182.35 159.02Z"/>
<path d="M186.17 154.2L189.77 160.03L182.57 160.03Z"/>
<path d="M186.31 154.22L189.91 160.05L182.71 160.05Z"/>
<path d="M186.51 153.69L190.11 159.52L182.91 159.52Z"/>
<path d="M186.74 154.4L190.34 160.23L183.14 160.23Z"/>
<path d="M186.87 154.68L190.47 160.51L183.27 160.51Z"/>
<path d="M187.11 154.19L190.71 160.03L183.51 160.03Z"/>
<path d="M187.35 154.38L190.95 160.21L183.75 160.21Z"/>
<path d="M187.65 154.64L191.25 160.47L184.05 160.47Z"/>
<path d="M187.87 154.59L191.47 160.42L184.27 160.42Z"/>
<path d="M188.07 155.38L191.67 161.21L184.47 161.21Z"/>
<path d="M188.26 154.66L191.86 160.49L184.66 160.49Z"/>
<path d="M188.58 155.04L192.18 160.87L184.98 160.87Z"/>
<path d="M188.95 156.03L192.55 161.86L185.35 161.86Z"/>
<path d="M189.22 156.12L192.82 161.95L185.62 161.95Z"/>
<path d="M189.4 155.83L193 161.66L185.8 161.66Z"/>
<path d="M189.74 156.04L193.34 161.87L186.14 161.87Z"/>
<path d="M189.97 156.44L193.57 162.27L186.37 162.27Z"/>
<path d="M190.15 156.74L193.75 162.57L186.55 162.57Z"/>
<path d="M190.32 156.53L193.92 162.36L186.72 162.36Z"/>
<path d="M190.65 157.05L194.25 162.88L187.05 162.88Z"/>
<path d="M190.99 156.77L194.59 162.6L187.39 162.6Z"/>
<path d="M191.28 156.66L194.88 162.49L187.68 162.49Z"/>
<path d="M191.54 157.63L195.14 163.46L187.94 163.46Z"/>
<path d="M191.81 157.33L195.41 163.16L188.21 163.16Z"/>
<path d="M192 157.26L195.6 163.09L188.4 163.09Z"/>
<path d="M192.38 158.18L195.98 164.01L188.78 164.01Z"/>
<path d="M192.61 157.56L196.21 163.39L189.01 163.39Z"/>
<path d="M192.9 157.62L196.5 163.46L189.3 163.46Z"/>
<path d="M193.25 158.5L196.85 164.33L189.65 164.33Z"/>
<path d="M193.59 158.69L197.19 164.52L189.99 164.52Z"/>
<path d="M193.85 158.35L197.45 164.18L190.25 164.18Z"/>
<path d="M194.06 158.87L197.66 164.7L190.46 164.7Z"/>
<path d="M194.33 159.21L197.93 165.04L190.73 165.04Z"/>
<path d="M194.5 158.65L198.1 164.48L190.9 164.48Z"/>
<path d="M194.85 159.08L198.45 164.91L191.25 164.91Z"/>
<path d="M195.07 159.77L198.67 165.6L191.47 165.6Z"/>
<path d="M195.43 160.13L199.03 165.96L191.83 165.96Z"/>
<path d="M195.63 160.15L199.23 165.98L192.03 165.98Z"/>
<path d="M195.86 160.17L199.46 166L192.26 166Z"/>
<path d="M196.06 159.61L199.66 165.44L192.46 165.44Z"/>
<path d="M196.3 159.99L199.9 165.82L192.7 165.82Z"/>
<path d="M196.48 159.97L200.08 165.8L192.88 165.8Z"/>
<path d="M196.62 160.18L200.22 166.01L193.02 166.01Z"/>
<path d="M196.94 160.35L200.54 166.18L193.34 166.18Z"/>
<path d="M197.15 161.53L200.75 167.36L193.55 167.36Z"/>
<path d="M197.34 161.05L200.94 166.88L193.74 166.88Z"/>
<path d="M197.55 160.6L201.15 166.43L193.95 166.43Z"/>
<path d="M197.81 160.8L201.41 166.63L194.21 166.63Z"/>
<path d="M198.06 161.89L201.66 167.72L194.46 167.72Z"/>
<path d="M198.36 161.85L201.96 167.68L194.76 167.68Z"/>
<path d="M198.67 161.77L202.27 167.6L195.07 167.6Z"/>
<path d="M198.9 162.29L202.5 168.12L195.3 168.12Z"/>
<path d="M199.28 162.31L202.88 168.14L195.68 168.14Z"/>
<path d="M199.64 163.2L203.24 169.03L196.04 169.03Z"/>
<path d="M199.79 162.78L203.39 168.62L196.19 168.62Z"/>
<path d="M200.14 162.92L203.74 168.75L196.54 168.75Z"/>
<path d="M200.52 163.86L204.12 169.69L196.92 169.69Z"/>
<path d="M200.86 163.92L204.46 169.75L197.26 169.75Z"/>
<path d="M201.03 162.83L204.63 168.66L197.43 168.66Z"/>
<path d="M201.39 163.34L204.99 169.18L197.79 169.18Z"/>
<path d="M201.69 163.31L205.29 169.14L198.09 169.14Z"/>
<path d="M201.83 163.84L205.43 169.68L198.23 169.68Z"/>
<path d="M201.97 163.67L205.57 169.5L198.37 169.5Z"/>
<path d="M202.36 163.81L205.96 169.65L198.76 169.65Z"/>
<path d="M202.67 164.02L206.27 169.85L199.07 169.85Z"/>
<path d="M202.87 165.43L206.47 171.26L199.27 171.26Z"/>
<path d="M203.03 164.62L206.63 170.45L199.43 170.45Z"/>
<path d="M203.2 165.31L206.8 171.14L199.6 171.14Z"/>
<path d="M203.4 164.81L207 170.64L199.8 170.64Z"/>
<path d="M203.75 165.66L207.35 171.49L200.15 171.49Z"/>
<path d="M203.97 165.39L207.57 171.22L200.37 171.22Z"/>
<path d="M204.15 164.91L207.75 170.75L200.55 170.75Z"/>
<path d="M204.53 165.63L208.13 171.47L200.93 171.47Z"/>
<path d="M204.88 166.45L208.48 172.28L201.28 172.28Z"/>
<path d="M205.06 166.14L208.66 171.98L201.46 171.98Z"/>
<path d="M205.44 166.53L209.04 172.36L201.84 172.36Z"/>
<path d="M205.74 165.9L209.34 171.73L202.14 171.73Z"/>
<path d="M206.08 167.2L209.68 173.03L202.48 173.03Z"/>
<path d="M206.4 167.38L210 173.21L202.8 173.21Z"/>
<path d="M206.78 167.07L210.38 172.9L203.18 172.9Z"/>
<path d="M207.13 168.17L210.73 174.01L203.53 174.01Z"/>
<path d="M207.5 167.63L211.1 173.46L203.9 173.46Z"/>
<path d="M207.69 167.15L211.29 172.98L204.09 172.98Z"/>
<path d="M208.01 168.1L211.61 173.94L204.41 173.94Z"/>
<path d="M208.29 168.71L211.89 174.54L204.69 174.54Z"/>
<path d="M208.63 168.6L212.23 174.43L205.03 174.43Z"/>
<path d="M208.89 168.65L212.49 174.48L205.29 174.48Z"/>
<path d="M209.27 169.57L212.87 175.4L205.67 175.4Z"/>
<path d="M209.56 169.8L213.16 175.64L205.96 175.64Z"/>
<path d="M209.77 169.93L213.37 175.76L206.17 175.76Z"/>
<path d="M209.97 169.78L213.57 175.62L206.37 175.62Z"/>
<path d="M210.14 169.7L213.74 175.53L206.54 175.53Z"/>
<path d="M210.42 170.09L214.02 175.92L206.82 175.92Z"/>
<path d="M210.57 170.28L214.17 176.11L206.97 176.11Z"/>
<path d="M210.84 170.73L214.44 176.56L207.24 176.56Z"/>
<path d="M211.01 170.03L214.61 175.86L207.41 175.86Z"/>
<path d="M211.29 169.68L214.89 175.52L207.69 175.52Z"/>
<path d="M211.56 170.28L215.16 176.11L207.96 176.11Z"/>
<path d="M211.85 170.54L215.45 176.37L208.25 176.37Z"/>
<path d="M212.23 170.64L215.83 176.47L208.63 176.47Z"/>
<path d="M212.37 171.56L215.97 177.39L208.77 177.39Z"/>
<path d="M212.74 170.87L216.34 176.7L209.14 176.7Z"/>
<path d="M213.01 171.5L216.61 177.34L209.41 177.34Z"/>
<path d="M213.3 171.54L216.9 177.37L209.7 177.37Z"/>
<path d="M213.62 171.63L217.22 177.46L210.02 177.46Z"/>
<path d="M214 172.14L217.6 177.98L210.4 177.98Z"/>
<path d="M214.24 172.61L217.84 178.44L210.64 178.44Z"/>
<path d="M214.5 172.91L218.1 178.74L210.9 178.74Z"/>
<path d="M214.91 173.23L218.51 179.06L211.31 179.06Z"/>
<path d="M215.08 172.78L218.68 178.61L211.48 178.61Z"/>
<path d="M215.41 173.24L219.01 179.08L211.81 179.08Z"/>
<path d="M215.74 173.07L219.34 178.9L212.14 178.9Z"/>
<path d="M215.89 174.29L219.49 180.12L212.29 180.12Z"/>
<path d="M216.22 173.84L219.82 179.67L212.62 179.67Z"/>
<path d="M216.57 173.07L220.17 178.9L212.97 178.9Z"/>
<path d="M216.99 174.59L220.59 180.42L213.39 180.42Z"/>
<path d="M217.24 174.12L220.84 179.95L213.64 179.95Z"/>
<path d="M217.69 174.55L221.29 180.38L214.09 180.38Z"/>
<path d="M218 175.17L221.6 181L214.4 181Z"/>
<path d="M218.31 173.95L221.91 179.78L214.71 179.78Z"/>
<path d="M218.74 175.64L222.34 181.48L215.14 181.48Z"/>
<path d="M218.91 174.78L222.51 180.61L215.31 180.61Z"/>
<path d="M219.3 176.3L222.9 182.13L215.7 182.13Z"/>
<path d="M219.66 176.73L223.26 182.56L216.06 182.56Z"/>
<path d="M219.93 175.23L223.53 181.07L216.33 181.07Z"/>
<path d="M220.37 176.43L223.97 182.26L216.77 182.26Z"/>
<path d="M220.66 177.42L224.26 183.25L217.06 183.25Z"/>
<path d="M220.98 176.94L224.58 182.78L217.38 182.78Z"/>
<path d="M221.33 177.06L224.93 182.89L217.73 182.89Z"/>
<path d="M221.76 176.71L225.36 182.54L218.16 182.54Z"/>
<path d="M222 178.22L225.6 184.06L218.4 184.06Z"/>
<path d="M222.33 178.19L225.93 184.02L218.73 184.02Z"/>
<path d="M222.65 176.81L226.25 182.64L219.05 182.64Z"/>
<path d="M223.02 177.53L226.62 183.36L219.42 183.36Z"/>
<path d="M223.49 179.13L227.09 184.96L219.89 184.96Z"/>
<path d="M223.78 178.92L227.38 184.75L220.18 184.75Z"/>
<path d="M224.26 179.2L227.86 185.04L220.66 185.04Z"/>
<path d="M224.6 178.7L228.2 184.53L221 184.53Z"/>
<path d="M224.97 179.08L228.57 184.91L221.37 184.91Z"/>
<path d="M225.26 178.74L228.86 184.57L221.66 184.57Z"/>
<path d="M225.65 179.06L229.25 184.89L222.05 184.89Z"/>
<path d="M226.22 180.13L229.82 185.96L222.62 185.96Z"/>
<path d="M226.67 179.92L230.27 185.75L223.07 185.75Z"/>
<path d="M227.19 180.24L230.79 186.07L223.59 186.07Z"/>
<path d="M227.53 180.42L231.13 186.26L223.93 186.26Z"/>
<path d="M227.86 181.31L231.46 187.15L224.26 187.15Z"/>
<path d="M228.2 180.8L231.8 186.63L224.6 186.63Z"/>
<path d="M228.65 181.28L232.25 187.11L225.05 187.11Z"/>
<path d="M229.14 181.11L232.74 186.94L225.54 186.94Z"/>
<path d="M229.7 183.37L233.3 189.2L226.1 189.2Z"/>
<path d="M229.94 181.73L233.54 187.56L226.34 187.56Z"/>
<path d="M230.49 184.2L234.09 190.04L226.89 190.04Z"/>
<path d="M231.13 182.76L234.73 188.59L227.53 188.59Z"/>
<path d="M231.62 183.53L235.22 189.36L228.02 189.36Z"/>
<path d="M231.88 183.92L235.48 189.75L228.28 189.75Z"/>
<path d="M232.27 183.01L235.87 188.84L228.67 188.84Z"/>
<path d="M232.52 184.15L236.12 189.99L228.92 189.99Z"/>
<path d="M232.86 184.77L236.46 190.6L229.26 190.6Z"/>
<path d="M233.58 184.31L237.18 190.15L229.98 190.15Z"/>
<path d="M234.16 184.46L237.76 190.29L230.56 190.29Z"/>
<path d="M234.78 185.55L238.38 191.38L231.18 191.38Z"/>
<path d="M235.49 186.61L239.09 192.44L231.89 192.44Z"/>
<path d="M236.29 186.95L239.89 192.79L232.69 192.79Z"/>
<path d="M236.95 187.38L240.55 193.21L233.35 193.21Z"/>
<path d="M237.63 187.12L241.23 192.95L234.03 192.95Z"/>
<path d="M238.34 188.75L241.94 194.58L234.74 194.58Z"/>
<path d="M239.13 189.01L242.73 194.84L235.53 194.84Z"/>
<path d="M239.89 189.06L243.49 194.89L236.29 194.89Z"/>
<path d="M240.74 190.09L244.34 195.93L237.14 195.93Z"/>
<path d="M241.28 190.63L244.88 196.46L237.68 196.46Z"/>
<path d="M242.2 189.92L245.8 195.75L238.6 195.75Z"/>
<path d="M242.96 190.24L246.56 196.07L239.36 196.07Z"/>
<path d="M243.97 191.91L247.57 197.74L240.37 197.74Z"/>
<path d="M244.45 192.39L248.05 198.22L240.85 198.22Z"/>
<path d="M245 193.51L248.6 199.35L241.4 199.35Z"/>
<path d="M245.43 193.45L249.03 199.28L241.83 199.28Z"/>
<path d="M246.46 194.61L250.06 200.44L242.86 200.44Z"/>
<path d="M247.6 194.08L251.2 199.91L244 199.91Z"/>
<path d="M248.54 194.67L252.14 200.5L244.94 200.5Z"/>
<path d="M249.24 196.67L252.84 202.51L245.64 202.51Z"/>
<path d="M250.32 194.77L253.92 200.6L246.72 200.6Z"/>
<path d="M251.38 197.36L254.98 203.2L247.78 203.2Z"/>
<path d="M252.25 196.25L255.85 202.08L248.65 202.08Z"/>
<path d="M252.88 196.67L256.48 202.5L249.28 202.5Z"/>
<path d="M253.54 196.69L257.14 202.52L249.94 202.52Z"/>
<path d="M254.3 199.72L257.9 205.55L250.7 205.55Z"/>
<path d="M254.98 199.42L258.58 205.25L251.38 205.25Z"/>
<path d="M255.76 198.27L259.36 204.1L252.16 204.1Z"/>
<path d="M256.71 202.02L260.31 207.85L253.11 207.85Z"/>
<path d="M257.92 202.71L261.52 208.54L254.32 208.54Z"/>
<path d="M258.38 201.18L261.98 207.01L254.78 207.01Z"/>
<path d="M259.28 202.01L262.88 207.85L255.68 207.85Z"/>
<path d="M259.74 200.77L263.34 206.61L256.14 206.61Z"/>
<path d="M260.27 201.65L263.87 207.48L256.67 207.48Z"/>
<path d="M261.38 203.24L264.98 209.07L257.78 209.07Z"/>
<path d="M262.3 202.11L265.9 207.94L258.7 207.94Z"/>
<path d="M263.51 204.72L267.11 210.56L259.91 210.56Z"/>
<path d="M264.33 205.26L267.93 211.09L260.73 211.09Z"/>
<path d="M264.77 204.9L268.37 210.73L261.17 210.73Z"/>
<path d="M265.54 206.56L269.14 212.39L261.94 212.39Z"/>
<path d="M266.48 207.32L270.08 213.15L262.88 213.15Z"/>
<path d="M267.73 207.19L271.33 213.02L264.13 213.02Z"/>
<path d="M269.03 209.04L272.63 214.87L265.43 214.87Z"/>
<path d="M269.89 207.13L273.49 212.96L266.29 212.96Z"/>
<path d="M270.69 208.78L274.29 214.61L267.09 214.61Z"/>
<path d="M271.22 209.76L274.82 215.6L267.62 215.6Z"/>
<path d="M272.24 212.26L275.84 218.09L268.64 218.09Z"/>
<path d="M272.87 211.5L276.47 217.33L269.27 217.33Z"/>
<path d="M273.45 211.77L277.05 217.6L269.85 217.6Z"/>
<path d="M273.91 211.38L277.51 217.21L270.31 217.21Z"/>
<path d="M274.36 211.62L277.96 217.45L270.76 217.45Z"/>
<path d="M275.43 210.96L279.03 216.79L271.83 216.79Z"/>
<path d="M275.99 210.94L279.59 216.77L272.39 216.77Z"/>
<path d="M277.31 213.94L280.91 219.78L273.71 219.78Z"/>
<path d="M277.85 214.51L281.45 220.34L274.25 220.34Z"/>
<path d="M279.09 214.48L282.69 220.31L275.49 220.31Z"/>
<path d="M279.67 213.13L283.27 218.96L276.07 218.96Z"/>
<path d="M280.14 216.47L283.74 222.3L276.54 222.3Z"/>
<path d="M281.26 216.24L284.86 222.07L277.66 222.07Z"/>
<path d="M281.95 215.28L285.55 221.11L278.35 221.11Z"/>
<path d="M283.09 219.04L286.69 224.87L279.49 224.87Z"/>
<path d="M283.73 218.7L287.33 224.53L280.13 224.53Z"/>
<path d="M284.24 215.78L287.84 221.61L280.64 221.61Z"/>
<path d="M285.43 217.2L289.03 223.03L281.83 223.03Z"/>
<path d="M286.57 219.41L290.17 225.24L282.97 225.24Z"/>
<path d="M287.85 222.19L291.45 228.02L284.25 228.02Z"/>
<path d="M289.01 218.87L292.61 224.7L285.41 224.7Z"/>
<path d="M289.57 220.24L293.17 226.07L285.97 226.07Z"/>
<path d="M290.65 220.17L294.25 226.01L287.05 226.01Z"/>
<path d="M291.81 219.96L295.41 225.79L288.21 225.79Z"/>
<path d="M292.73 221.06L296.33 226.89L289.13 226.89Z"/>
<path d="M294.12 224.26L297.72 230.1L290.52 230.1Z"/>
<path d="M294.85 226.01L298.45 231.85L291.25 231.85Z"/>
<path d="M296.28 226.16L299.88 231.99L292.68 231.99Z"/>
<path d="M297.48 225.76L301.08 231.59L293.88 231.59Z"/>
<path d="M297.98 226.09L301.58 231.92L294.38 231.92Z"/>
<path d="M298.49 227.9L302.09 233.73L294.89 233.73Z"/>
<path d="M299.64 228.56L303.24 234.4L296.04 234.4Z"/>
<path d="M300.95 227.24L304.55 233.07L297.35 233.07Z"/>
<path d="M301.53 227.71L305.13 233.54L297.93 233.54Z"/>
<path d="M302.35 229.31L305.95 235.14L298.75 235.14Z"/>
<path d="M303.59 227.34L307.19 233.17L299.99 233.17Z"/>
<path d="M304.26 229.41L307.86 235.25L300.66 235.25Z"/>
<path d="M305.63 232.97L309.23 238.8L302.03 238.8Z"/>
<path d="M306.63 232.1L310.23 237.93L303.03 237.93Z"/>
<path d="M307.2 230.93L310.8 236.76L303.6 236.76Z"/>
<path d="M308.07 233.57L311.67 239.4L304.47 239.4Z"/>
<path d="M309.16 232.78L312.76 238.61L305.56 238.61Z"/>
<path d="M310.11 236.22L313.71 242.05L306.51 242.05Z"/>
<path d="M311.29 235.86L314.89 241.69L307.69 241.69Z"/>
<path d="M311.95 234.25L315.55 240.08L308.35 240.08Z"/>
<path d="M313.26 236.19L316.86 242.02L309.66 242.02Z"/>
<path d="M314.13 236.52L317.73 242.35L310.53 242.35Z"/>
<path d="M315.28 239.11L318.88 244.94L311.68 244.94Z"/>
<path d="M316.43 238.81L320.03 244.64L312.83 244.64Z"/>
<path d="M317.35 239.27L320.95 245.1L313.75 245.1Z"/>
<path d="M318.25 240.97L321.85 246.8L314.65 246.8Z"/>
<path d="M319.55 240.5L323.15 246.33L315.95 246.33Z"/>
<path d="M321.01 241.97L324.61 247.8L317.41 247.8Z"/>
<path d="M322.3 241.2L325.9 247.03L318.7 247.03Z"/>
<path d="M323.38 243.52L326.98 249.35L319.78 249.35Z"/>
<path d="M324.18 244.69L327.78 250.52L320.58 250.52Z"/>
<path d="M324.75 246.14L328.35 251.97L321.15 251.97Z"/>
<path d="M326.24 247.08L329.84 252.91L322.64 252.91Z"/>
<path d="M327.45 245.78L331.05 251.61L323.85 251.61Z"/>
<path d="M328.79 249.08L332.39 254.91L325.19 254.91Z"/>
<path d="M329.63 249.7L333.23 255.53L326.03 255.53Z"/>
<path d="M330.75 250.25L334.35 256.08L327.15 256.08Z"/>
<path d="M332.24 250.07L335.84 255.9L328.64 255.9Z"/>
<path d="M333.59 249.97L337.19 255.8L329.99 255.8Z"/>
<path d="M334.7 251.51L338.3 257.34L331.1 257.34Z"/>
<path d="M335.51 251.42L339.11 257.25L331.91 257.25Z"/>
<path d="M336.45 254.7L340.05 260.53L332.85 260.53Z"/>
<path d="M337.85 255.87L341.45 261.7L334.25 261.7Z"/>
<path d="M338.74 253.87L342.34 259.7L335.14 259.7Z"/>
<path d="M339.94 256.28L343.54 262.11L336.34 262.11Z"/>
<path d="M341.05 255.72L344.65 261.56L337.45 261.56Z"/>
<path d="M342.46 257.98L346.06 263.81L338.86 263.81Z"/>
<path d="M343.78 259.55L347.38 265.38L340.18 265.38Z"/>
<path d="M344.57 259.79L348.17 265.62L340.97 265.62Z"/>
<path d="M345.08 260.72L348.68 266.55L341.48 266.55Z"/>
<path d="M345.85 258.54L349.45 264.37L342.25 264.37Z"/>
<path d="M346.78 260.3L350.38 266.13L343.18 266.13Z"/>
<path d="M347.88 261.87L351.48 267.7L344.28 267.7Z"/>
<path d="M349.21 262.49L352.81 268.33L345.61 268.33Z"/>
<path d="M350.61 263.73L354.21 269.56L347.01 269.56Z"/>
<path d="M351.16 265.23L354.76 271.06L347.56 271.06Z"/>
<path d="M352.5 263.44L356.1 269.27L348.9 269.27Z"/>
<path d="M353.83 265.42L357.43 271.25L350.23 271.25Z"/>
<path d="M355.21 265.19L358.81 271.03L351.61 271.03Z"/>
<path d="M356.29 267.69L359.89 273.52L352.69 273.52Z"/>
<path d="M357.07 267.67L360.67 273.5L353.47 273.5Z"/>
<path d="M358.44 269.87L362.04 275.7L354.84 275.7Z"/>
<path d="M359.76 271.49L363.36 277.32L356.16 277.32Z"/>
<path d="M360.95 269.5L364.55 275.34L357.35 275.34Z"/>
<path d="M362.38 270.79L365.98 276.63L358.78 276.63Z"/>
<path d="M363.24 273.14L366.84 278.98L359.64 278.98Z"/>
<path d="M363.83 271.71L367.43 277.55L360.23 277.55Z"/>
<path d="M364.89 272.76L368.49 278.59L361.29 278.59Z"/>
<path d="M366.2 275.33L369.8 281.17L362.6 281.17Z"/>
<path d="M366.91 274.91L370.51 280.74L363.31 280.74Z"/>
<path d="M368.17 274.71L371.77 280.54L364.57 280.54Z"/>
<path d="M369.62 277.22L373.22 283.05L366.02 283.05Z"/>
<path d="M370.36 276.35L373.96 282.18L366.76 282.18Z"/>
<path d="M371.48 279.36L375.08 285.19L367.88 285.19Z"/>
<path d="M372.67 279.77L376.27 285.6L369.07 285.6Z"/>
<path d="M373.64 279.47L377.24 285.3L370.04 285.3Z"/>
<path d="M374.36 281.51L377.96 287.34L370.76 287.34Z"/>
<path d="M375.12 281.8L378.72 287.63L371.52 287.63Z"/>
<path d="M376.38 280.99L379.98 286.82L372.78 286.82Z"/>
<path d="M377.69 283.13L381.29 288.96L374.09 288.96Z"/>
<path d="M378.66 282.91L382.26 288.74L375.06 288.74Z"/>
<path d="M379.25 285L382.85 290.83L375.65 290.83Z"/>
<path d="M161.96 155.64L165.56 161.47L158.36 161.47Z"/>
<path d="M161.96 230.99L165.56 236.82L158.36 236.82Z"/>
<path d="M177.96 230.99L181.56 236.82L174.36 236.82Z"/>
<path d="M233.4 230.99L237 236.82L229.8 236.82Z"/>
<path d="M200.07 157.89L203.67 163.72L196.47 163.72Z"/>
<path d="M208.62 161.27L212.22 167.1L205.02 167.1Z"/>
<path d="M331.16 243.36L334.76 249.19L327.56 249.19Z"/>
<path d="M341.27 248.98L344.87 254.81L337.67 254.81Z"/>
<path d="M80.3 81.46L83.9 87.3L76.7 87.3Z"/>
<path d="M80.86 82.64L84.46 88.47L77.26 88.47Z"/>
<path d="M81.41 80.78L85.01 86.62L77.81 86.62Z"/>
<path d="M81.97 83.78L85.57 89.61L78.37 89.61Z"/>
<path d="M82.52 82.09L86.12 87.92L78.92 87.92Z"/>
<path d="M83.08 83.25L86.68 89.09L79.48 89.09Z"/>
<path d="M83.63 85.03L87.23 90.87L80.03 90.87Z"/>
<path d="M84.19 83.41L87.79 89.24L80.59 89.24Z"/>
<path d="M84.74 85.92L88.34 91.75L81.14 91.75Z"/>
<path d="M85.3 84.53L88.9 90.36L81.7 90.36Z"/>
<path d="M85.86 86.56L89.45 92.4L82.26 92.4Z"/>
<path d="M86.41 86.87L90.01 92.7L82.81 92.7Z"/>
<path d="M86.97 85.76L90.57 91.59L83.37 91.59Z"/>
<path d="M87.52 84.35L91.12 90.18L83.92 90.18Z"/>
<path d="M88.08 87.9L91.68 93.74L84.48 93.74Z"/>
<path d="M88.63 87.85L92.23 93.68L85.03 93.68Z"/>
<path d="M89.19 86.43L92.79 92.26L85.59 92.26Z"/>
<path d="M89.74 85.38L93.34 91.22L86.14 91.22Z"/>
<path d="M90.3 87.45L93.9 93.28L86.7 93.28Z"/>
<path d="M90.85 88.65L94.45 94.49L87.25 94.49Z"/>
<path d="M91.41 86.44L95.01 92.27L87.81 92.27Z"/>
</g>
<g fill="none" stroke="#3010c8" stroke-width="1.2" stroke-opacity="0.8">
<circle cx="93.08" cy="93.3" r="2.9"/>
<circle cx="96.85" cy="96.08" r="2.9"/>
<circle cx="100.63" cy="98.85" r="2.9"/>
<circle cx="104.41" cy="101.63" r="2.9"/>
<circle cx="108.19" cy="104.4" r="2.9"/>
<circle cx="111.96" cy="107.18" r="2.9"/>
<circle cx="115.74" cy="109.95" r="2.9"/>
<circle cx="119.52" cy="112.73" r="2.9"/>
<circle cx="123.3" cy="115.5" r="2.9"/>
<circle cx="127.07" cy="118.28" r="2.9"/>
</g>
<path d="M80.3 310.7v-3.3M80.3 48.3v3.3M135.85 310.7v-3.3M135.85 48.3v3.3M191.4 310.7v-3.3M191.4 48.3v3.3M246.95 310.7v-3.3M246.95 48.3v3.3M302.5 310.7v-3.3M302.5 48.3v3.3M358.05 310.7v-3.3M358.05 48.3v3.3M413.6 310.7v-3.3M413.6 48.3v3.3M80.3 310.7h3.3M413.6 310.7h-3.3M80.3 273.21h3.3M413.6 273.21h-3.3M80.3 235.73h3.3M413.6 235.73h-3.3M80.3 198.24h3.3M413.6 198.24h-3.3M80.3 160.76h3.3M413.6 160.76h-3.3M80.3 123.27h3.3M413.6 123.27h-3.3M80.3 85.79h3.3M413.6 85.79h-3.3M80.3 48.3h3.3M413.6 48.3h-3.3" stroke="#262626" stroke-width="1.3" fill="none"/>
<rect x="80.3" y="48.3" width="333.3" height="262.4" fill="none" stroke="#262626" stroke-width="1.4"/>
<rect x="256.9" y="56.3" width="148.5" height="53.3" fill="#fff" stroke="#262626" stroke-width="1.3"/>
<circle cx="275.4" cy="64.1" r="3.1" fill="none" stroke="#2020e0" stroke-width="1.1"/>
<path d="M275.4 72.8L279.1 79.1L271.7 79.1Z" fill="none" stroke="#e02020" stroke-width="1.1"/>
<path d="M260.2 89H290.5" stroke="#0808e8" stroke-width="1.6"/>
<path d="M260.2 101.9H290.5" stroke="#d83030" stroke-width="1.6" stroke-dasharray="4.4 1.3 2.4 1.3"/>
<g font-family="Liberation Sans, Arial, sans-serif" font-size="9.2" fill="#0d0d0d" stroke="#0d0d0d" stroke-width="0.22">
<text x="292.4" y="66.9">Ectrolysis mode data</text>
<text x="292.4" y="79.5">Fuel cell mode data</text>
<text x="292.4" y="92.2">Ectrolysis mode simulation</text>
<text x="292.4" y="104.6">Fuel cell mode simulation</text>
</g>
<g font-family="Liberation Sans, Arial, sans-serif" font-size="9.8" fill="#262626">
<text x="80.3" y="325" text-anchor="middle">0</text>
<text x="135.85" y="325" text-anchor="middle">0.5</text>
<text x="191.4" y="325" text-anchor="middle">1</text>
<text x="246.95" y="325" text-anchor="middle">1.5</text>
<text x="302.5" y="325" text-anchor="middle">2</text>
<text x="358.05" y="325" text-anchor="middle">2.5</text>
<text x="413.6" y="325" text-anchor="middle">3</text>
<text x="73.4" y="314.2" text-anchor="end">0.3</text>
<text x="73.4" y="276.71" text-anchor="end">0.4</text>
<text x="73.4" y="239.23" text-anchor="end">0.5</text>
<text x="73.4" y="201.74" text-anchor="end">0.6</text>
<text x="73.4" y="164.26" text-anchor="end">0.7</text>
<text x="73.4" y="126.77" text-anchor="end">0.8</text>
<text x="73.4" y="89.29" text-anchor="end">0.9</text>
<text x="75.2" y="51.8" text-anchor="end">1</text>
</g>
<text x="246.95" y="340.9" font-family="Liberation Sans, Arial, sans-serif" font-size="11.2" fill="#262626" text-anchor="middle">current (A)</text>
<text transform="translate(55.3 179.7) rotate(-90)" font-family="Liberation Sans, Arial, sans-serif" font-size="11.2" fill="#262626" text-anchor="middle">V (volt)</text>
<path d="M522.95 48.5V308.3M577.9 48.5V308.3M632.85 48.5V308.3M687.8 48.5V308.3M742.75 48.5V308.3M468 271.19H797.7M468 234.07H797.7M468 196.96H797.7M468 159.84H797.7M468 122.73H797.7M468 85.61H797.7" stroke="#e6e6e6" stroke-width="1.3" fill="none"/>
<path d="M517.46 101.2L520.74 103.85L524.03 106.49L527.32 109.14L530.61 111.79L533.9 114.43L537.19 117.08L540.48 119.72L543.77 122.37L547.06 125.02L550.35 127.66L553.64 130.31L556.93 132.96L560.22 135.6L563.51 138.25L566.8 140.89L570.09 143.54L573.38 146.19L576.67 148.83L579.96 151.56L583.25 154.34L586.54 157.11L589.83 159.89L593.12 162.67L596.41 165.45L599.7 168.22L602.99 170.79L606.28 173.35L609.57 175.9L612.86 178.45L616.15 181.01L619.43 183.56L622.72 186.12L626.01 188.67L629.3 191.23L632.59 194.02L635.88 196.87L639.17 199.72L642.46 202.57L645.75 205.42L649.04 208.27L652.33 211.12L655.62 214.11L658.91 217.55L662.2 220.98L665.49 224.41L668.78 227.85L672.07 231.28L675.36 234.72L678.65 238.15L681.94 242.36L685.23 246.67L688.52 250.86L691.81 254.63L695.1 258.41L698.39 262.19L701.68 265.65L704.97 269.08L708.26 272.5L711.55 275.93L714.84 279.35" stroke="#0000ff" stroke-width="1.4" fill="none"/>
<g fill="none" stroke="#0000ff" stroke-width="1.2">
<circle cx="477.34" cy="72.34" r="2.9"/>
<circle cx="481.52" cy="75.54" r="2.9"/>
<circle cx="485.69" cy="78.73" r="2.9"/>
<circle cx="489.87" cy="81.92" r="2.9"/>
<circle cx="494.05" cy="85.12" r="2.9"/>
<circle cx="498.22" cy="88.31" r="2.9"/>
<circle cx="502.4" cy="91.5" r="2.9"/>
<circle cx="506.57" cy="94.7" r="2.9"/>
<circle cx="510.75" cy="97.89" r="2.9"/>
<circle cx="514.93" cy="101.11" r="2.9"/>
<circle cx="517.75" cy="102.39" r="2.9"/>
<circle cx="518.04" cy="104.06" r="2.9"/>
<circle cx="518.18" cy="103.24" r="2.9"/>
<circle cx="518.37" cy="104.18" r="2.9"/>
<circle cx="518.64" cy="103.41" r="2.9"/>
<circle cx="518.83" cy="105.39" r="2.9"/>
<circle cx="519.15" cy="104.71" r="2.9"/>
<circle cx="519.31" cy="103.9" r="2.9"/>
<circle cx="519.63" cy="105.59" r="2.9"/>
<circle cx="519.85" cy="105.82" r="2.9"/>
<circle cx="520.01" cy="106.49" r="2.9"/>
<circle cx="520.23" cy="106.35" r="2.9"/>
<circle cx="520.37" cy="106.23" r="2.9"/>
<circle cx="520.63" cy="105.46" r="2.9"/>
<circle cx="520.8" cy="106.71" r="2.9"/>
<circle cx="521.11" cy="106.56" r="2.9"/>
<circle cx="521.36" cy="107.22" r="2.9"/>
<circle cx="521.55" cy="106.47" r="2.9"/>
<circle cx="521.72" cy="106.01" r="2.9"/>
<circle cx="521.96" cy="106.71" r="2.9"/>
<circle cx="522.12" cy="107.88" r="2.9"/>
<circle cx="522.43" cy="106.91" r="2.9"/>
<circle cx="522.57" cy="106.5" r="2.9"/>
<circle cx="522.79" cy="107.52" r="2.9"/>
<circle cx="523.03" cy="108.9" r="2.9"/>
<circle cx="523.2" cy="107.36" r="2.9"/>
<circle cx="523.48" cy="107.43" r="2.9"/>
<circle cx="523.68" cy="108.81" r="2.9"/>
<circle cx="523.94" cy="109.47" r="2.9"/>
<circle cx="524.18" cy="109.54" r="2.9"/>
<circle cx="524.36" cy="108.88" r="2.9"/>
<circle cx="524.56" cy="108.25" r="2.9"/>
<circle cx="524.7" cy="108.89" r="2.9"/>
<circle cx="524.85" cy="108.36" r="2.9"/>
<circle cx="525.15" cy="110.22" r="2.9"/>
<circle cx="525.34" cy="110.1" r="2.9"/>
<circle cx="525.6" cy="109.33" r="2.9"/>
<circle cx="525.74" cy="109.66" r="2.9"/>
<circle cx="525.98" cy="110.41" r="2.9"/>
<circle cx="526.17" cy="109.93" r="2.9"/>
<circle cx="526.4" cy="110.89" r="2.9"/>
<circle cx="526.58" cy="111.67" r="2.9"/>
<circle cx="526.71" cy="110.94" r="2.9"/>
<circle cx="526.89" cy="111.94" r="2.9"/>
<circle cx="527.06" cy="110.72" r="2.9"/>
<circle cx="527.2" cy="111.5" r="2.9"/>
<circle cx="527.48" cy="111.34" r="2.9"/>
<circle cx="527.65" cy="111.24" r="2.9"/>
<circle cx="527.86" cy="112.19" r="2.9"/>
<circle cx="528.18" cy="111.95" r="2.9"/>
<circle cx="528.47" cy="113.22" r="2.9"/>
<circle cx="528.79" cy="111.34" r="2.9"/>
<circle cx="529.1" cy="112.42" r="2.9"/>
<circle cx="529.24" cy="111.54" r="2.9"/>
<circle cx="529.42" cy="113.84" r="2.9"/>
<circle cx="529.54" cy="112.64" r="2.9"/>
<circle cx="529.81" cy="112.59" r="2.9"/>
<circle cx="530.08" cy="113.71" r="2.9"/>
<circle cx="530.27" cy="114.41" r="2.9"/>
<circle cx="530.48" cy="114.42" r="2.9"/>
<circle cx="530.75" cy="114.66" r="2.9"/>
<circle cx="531.02" cy="113.41" r="2.9"/>
<circle cx="531.2" cy="115.12" r="2.9"/>
<circle cx="531.51" cy="113.67" r="2.9"/>
<circle cx="531.7" cy="114.73" r="2.9"/>
<circle cx="531.96" cy="114.66" r="2.9"/>
<circle cx="532.12" cy="114.66" r="2.9"/>
<circle cx="532.26" cy="114.85" r="2.9"/>
<circle cx="532.59" cy="114.86" r="2.9"/>
<circle cx="532.87" cy="115.21" r="2.9"/>
<circle cx="533.16" cy="116.05" r="2.9"/>
<circle cx="533.28" cy="115.19" r="2.9"/>
<circle cx="533.41" cy="116.42" r="2.9"/>
<circle cx="533.56" cy="115.47" r="2.9"/>
<circle cx="533.72" cy="115.47" r="2.9"/>
<circle cx="533.91" cy="115.58" r="2.9"/>
<circle cx="534.11" cy="116.84" r="2.9"/>
<circle cx="534.24" cy="115.84" r="2.9"/>
<circle cx="534.43" cy="115.5" r="2.9"/>
<circle cx="534.69" cy="116.94" r="2.9"/>
<circle cx="534.85" cy="117.47" r="2.9"/>
<circle cx="535.16" cy="117.13" r="2.9"/>
<circle cx="535.41" cy="116.34" r="2.9"/>
<circle cx="535.7" cy="118.46" r="2.9"/>
<circle cx="535.87" cy="118.89" r="2.9"/>
<circle cx="536.09" cy="117.95" r="2.9"/>
<circle cx="536.37" cy="117.74" r="2.9"/>
<circle cx="536.57" cy="117.61" r="2.9"/>
<circle cx="536.69" cy="118.67" r="2.9"/>
<circle cx="537" cy="117.43" r="2.9"/>
<circle cx="537.3" cy="119.46" r="2.9"/>
<circle cx="537.48" cy="118.35" r="2.9"/>
<circle cx="537.61" cy="120.03" r="2.9"/>
<circle cx="537.93" cy="120.42" r="2.9"/>
<circle cx="538.19" cy="120.36" r="2.9"/>
<circle cx="538.32" cy="120.64" r="2.9"/>
<circle cx="538.5" cy="119.72" r="2.9"/>
<circle cx="538.64" cy="119.71" r="2.9"/>
<circle cx="538.95" cy="120.83" r="2.9"/>
<circle cx="539.12" cy="119.15" r="2.9"/>
<circle cx="539.45" cy="120.77" r="2.9"/>
<circle cx="539.75" cy="121.51" r="2.9"/>
<circle cx="539.89" cy="121.55" r="2.9"/>
<circle cx="540.17" cy="120.43" r="2.9"/>
<circle cx="540.38" cy="120.16" r="2.9"/>
<circle cx="540.68" cy="122.2" r="2.9"/>
<circle cx="540.99" cy="122.76" r="2.9"/>
<circle cx="541.18" cy="121.11" r="2.9"/>
<circle cx="541.32" cy="122.49" r="2.9"/>
<circle cx="541.67" cy="120.99" r="2.9"/>
<circle cx="541.89" cy="122.31" r="2.9"/>
<circle cx="542.23" cy="122.24" r="2.9"/>
<circle cx="542.51" cy="123.16" r="2.9"/>
<circle cx="542.81" cy="122.29" r="2.9"/>
<circle cx="543.13" cy="123.35" r="2.9"/>
<circle cx="543.4" cy="123.89" r="2.9"/>
<circle cx="543.63" cy="122.67" r="2.9"/>
<circle cx="543.76" cy="124.68" r="2.9"/>
<circle cx="544.05" cy="123.4" r="2.9"/>
<circle cx="544.28" cy="125.18" r="2.9"/>
<circle cx="544.52" cy="123.96" r="2.9"/>
<circle cx="544.87" cy="124.81" r="2.9"/>
<circle cx="545.02" cy="123.82" r="2.9"/>
<circle cx="545.32" cy="125.99" r="2.9"/>
<circle cx="545.45" cy="124.87" r="2.9"/>
<circle cx="545.75" cy="125.47" r="2.9"/>
<circle cx="546.06" cy="124.48" r="2.9"/>
<circle cx="546.25" cy="124.55" r="2.9"/>
<circle cx="546.5" cy="125.52" r="2.9"/>
<circle cx="546.86" cy="126.76" r="2.9"/>
<circle cx="547.14" cy="126.91" r="2.9"/>
<circle cx="547.39" cy="127.08" r="2.9"/>
<circle cx="547.57" cy="126.8" r="2.9"/>
<circle cx="547.71" cy="127.4" r="2.9"/>
<circle cx="547.92" cy="127.63" r="2.9"/>
<circle cx="548.14" cy="126.44" r="2.9"/>
<circle cx="548.31" cy="126.86" r="2.9"/>
<circle cx="548.51" cy="127.85" r="2.9"/>
<circle cx="548.67" cy="126.27" r="2.9"/>
<circle cx="548.96" cy="128.39" r="2.9"/>
<circle cx="549.25" cy="127.75" r="2.9"/>
<circle cx="549.43" cy="128.89" r="2.9"/>
<circle cx="549.61" cy="127.31" r="2.9"/>
<circle cx="549.86" cy="127.48" r="2.9"/>
<circle cx="550.1" cy="129.13" r="2.9"/>
<circle cx="550.45" cy="128.22" r="2.9"/>
<circle cx="550.66" cy="128.2" r="2.9"/>
<circle cx="550.86" cy="129.67" r="2.9"/>
<circle cx="551.2" cy="129.82" r="2.9"/>
<circle cx="551.36" cy="129.56" r="2.9"/>
<circle cx="551.62" cy="128.77" r="2.9"/>
<circle cx="551.83" cy="130.71" r="2.9"/>
<circle cx="552.15" cy="129.68" r="2.9"/>
<circle cx="552.41" cy="130.09" r="2.9"/>
<circle cx="552.73" cy="130.68" r="2.9"/>
<circle cx="552.89" cy="130.5" r="2.9"/>
<circle cx="553.19" cy="129.97" r="2.9"/>
<circle cx="553.46" cy="131.84" r="2.9"/>
<circle cx="553.7" cy="130.36" r="2.9"/>
<circle cx="554.02" cy="131.89" r="2.9"/>
<circle cx="554.35" cy="131.11" r="2.9"/>
<circle cx="554.5" cy="131.02" r="2.9"/>
<circle cx="554.7" cy="132.85" r="2.9"/>
<circle cx="554.92" cy="131.34" r="2.9"/>
<circle cx="555.09" cy="131.15" r="2.9"/>
<circle cx="555.23" cy="132.98" r="2.9"/>
<circle cx="555.43" cy="133.8" r="2.9"/>
<circle cx="555.6" cy="133.72" r="2.9"/>
<circle cx="555.91" cy="131.82" r="2.9"/>
<circle cx="556.15" cy="134.39" r="2.9"/>
<circle cx="556.3" cy="132.27" r="2.9"/>
<circle cx="556.51" cy="134.31" r="2.9"/>
<circle cx="556.75" cy="133.05" r="2.9"/>
<circle cx="556.97" cy="134.8" r="2.9"/>
<circle cx="557.14" cy="134.75" r="2.9"/>
<circle cx="557.28" cy="133.59" r="2.9"/>
<circle cx="557.41" cy="135.15" r="2.9"/>
<circle cx="557.79" cy="134.82" r="2.9"/>
<circle cx="558.11" cy="133.63" r="2.9"/>
<circle cx="558.26" cy="134.24" r="2.9"/>
<circle cx="558.57" cy="134.06" r="2.9"/>
<circle cx="558.94" cy="134.11" r="2.9"/>
<circle cx="559.21" cy="136.67" r="2.9"/>
<circle cx="559.37" cy="136.29" r="2.9"/>
<circle cx="559.62" cy="135.09" r="2.9"/>
<circle cx="559.86" cy="135.53" r="2.9"/>
<circle cx="560.04" cy="137.29" r="2.9"/>
<circle cx="560.3" cy="136.33" r="2.9"/>
<circle cx="560.43" cy="137.11" r="2.9"/>
<circle cx="560.8" cy="136.89" r="2.9"/>
<circle cx="561.09" cy="137.93" r="2.9"/>
<circle cx="561.38" cy="138.36" r="2.9"/>
<circle cx="561.75" cy="136.21" r="2.9"/>
<circle cx="562.05" cy="138.13" r="2.9"/>
<circle cx="562.24" cy="136.86" r="2.9"/>
<circle cx="562.43" cy="138.91" r="2.9"/>
<circle cx="562.6" cy="138.12" r="2.9"/>
<circle cx="562.73" cy="139.11" r="2.9"/>
<circle cx="563.06" cy="138.62" r="2.9"/>
<circle cx="563.41" cy="139.51" r="2.9"/>
<circle cx="563.62" cy="138.4" r="2.9"/>
<circle cx="563.79" cy="139.89" r="2.9"/>
<circle cx="564.09" cy="138.62" r="2.9"/>
<circle cx="564.44" cy="139.49" r="2.9"/>
<circle cx="564.81" cy="140.75" r="2.9"/>
<circle cx="564.99" cy="140.28" r="2.9"/>
<circle cx="565.32" cy="140.17" r="2.9"/>
<circle cx="565.67" cy="139.37" r="2.9"/>
<circle cx="565.99" cy="141.05" r="2.9"/>
<circle cx="566.21" cy="141.56" r="2.9"/>
<circle cx="566.39" cy="139.79" r="2.9"/>
<circle cx="566.74" cy="140.27" r="2.9"/>
<circle cx="566.95" cy="140.82" r="2.9"/>
<circle cx="567.18" cy="142.15" r="2.9"/>
<circle cx="567.46" cy="142.61" r="2.9"/>
<circle cx="567.69" cy="142.56" r="2.9"/>
<circle cx="568.04" cy="143.33" r="2.9"/>
<circle cx="568.23" cy="143.54" r="2.9"/>
<circle cx="568.37" cy="142.47" r="2.9"/>
<circle cx="568.66" cy="142.94" r="2.9"/>
<circle cx="568.96" cy="142.79" r="2.9"/>
<circle cx="569.3" cy="143.55" r="2.9"/>
<circle cx="569.62" cy="144.69" r="2.9"/>
<circle cx="570" cy="143.24" r="2.9"/>
<circle cx="570.38" cy="143.64" r="2.9"/>
<circle cx="570.65" cy="144.13" r="2.9"/>
<circle cx="570.91" cy="144.34" r="2.9"/>
<circle cx="571.09" cy="144.12" r="2.9"/>
<circle cx="571.3" cy="143.55" r="2.9"/>
<circle cx="571.59" cy="144.06" r="2.9"/>
<circle cx="571.75" cy="144.59" r="2.9"/>
<circle cx="572.07" cy="145.67" r="2.9"/>
<circle cx="572.24" cy="146.02" r="2.9"/>
<circle cx="572.5" cy="145.97" r="2.9"/>
<circle cx="572.89" cy="144.87" r="2.9"/>
<circle cx="573.05" cy="146.51" r="2.9"/>
<circle cx="573.2" cy="146.63" r="2.9"/>
<circle cx="573.45" cy="146.77" r="2.9"/>
<circle cx="573.64" cy="147.61" r="2.9"/>
<circle cx="573.97" cy="145.68" r="2.9"/>
<circle cx="574.1" cy="148.35" r="2.9"/>
<circle cx="574.46" cy="147.1" r="2.9"/>
<circle cx="574.83" cy="146.58" r="2.9"/>
<circle cx="575.18" cy="148.6" r="2.9"/>
<circle cx="575.43" cy="147.88" r="2.9"/>
<circle cx="575.65" cy="148.66" r="2.9"/>
<circle cx="575.96" cy="149.27" r="2.9"/>
<circle cx="576.24" cy="149.61" r="2.9"/>
<circle cx="576.49" cy="150.03" r="2.9"/>
<circle cx="576.72" cy="148.34" r="2.9"/>
<circle cx="576.98" cy="148.7" r="2.9"/>
<circle cx="577.29" cy="148.64" r="2.9"/>
<circle cx="577.66" cy="151.16" r="2.9"/>
<circle cx="578.04" cy="149.82" r="2.9"/>
<circle cx="578.23" cy="150.95" r="2.9"/>
<circle cx="578.45" cy="150.31" r="2.9"/>
<circle cx="578.71" cy="150.8" r="2.9"/>
<circle cx="579" cy="151.68" r="2.9"/>
<circle cx="579.24" cy="150.17" r="2.9"/>
<circle cx="579.43" cy="152.91" r="2.9"/>
<circle cx="579.59" cy="151.08" r="2.9"/>
<circle cx="579.83" cy="151.01" r="2.9"/>
<circle cx="580.1" cy="152.17" r="2.9"/>
<circle cx="580.51" cy="152.33" r="2.9"/>
<circle cx="580.91" cy="151.6" r="2.9"/>
<circle cx="581.3" cy="154.01" r="2.9"/>
<circle cx="581.72" cy="153.32" r="2.9"/>
<circle cx="582.14" cy="153.39" r="2.9"/>
<circle cx="582.46" cy="154.69" r="2.9"/>
<circle cx="582.84" cy="154.11" r="2.9"/>
<circle cx="583" cy="155.14" r="2.9"/>
<circle cx="583.35" cy="155.09" r="2.9"/>
<circle cx="583.67" cy="155.14" r="2.9"/>
<circle cx="583.91" cy="155.17" r="2.9"/>
<circle cx="584.22" cy="156.46" r="2.9"/>
<circle cx="584.65" cy="155.99" r="2.9"/>
<circle cx="584.95" cy="156.49" r="2.9"/>
<circle cx="585.29" cy="157.72" r="2.9"/>
<circle cx="585.53" cy="156.83" r="2.9"/>
<circle cx="585.78" cy="158.05" r="2.9"/>
<circle cx="586.2" cy="156.58" r="2.9"/>
<circle cx="586.36" cy="157.98" r="2.9"/>
<circle cx="586.57" cy="157.46" r="2.9"/>
<circle cx="586.93" cy="158.36" r="2.9"/>
<circle cx="587.22" cy="158.76" r="2.9"/>
<circle cx="587.4" cy="159.67" r="2.9"/>
<circle cx="587.76" cy="160.23" r="2.9"/>
<circle cx="588.03" cy="158.17" r="2.9"/>
<circle cx="588.36" cy="159.65" r="2.9"/>
<circle cx="588.65" cy="159.92" r="2.9"/>
<circle cx="588.97" cy="160.2" r="2.9"/>
<circle cx="589.3" cy="159.66" r="2.9"/>
<circle cx="589.59" cy="161.63" r="2.9"/>
<circle cx="589.78" cy="162.01" r="2.9"/>
<circle cx="590" cy="160.26" r="2.9"/>
<circle cx="590.44" cy="161.75" r="2.9"/>
<circle cx="590.78" cy="161.51" r="2.9"/>
<circle cx="590.97" cy="161.12" r="2.9"/>
<circle cx="591.41" cy="161.31" r="2.9"/>
<circle cx="591.66" cy="161.61" r="2.9"/>
<circle cx="591.85" cy="164.32" r="2.9"/>
<circle cx="592.19" cy="163.59" r="2.9"/>
<circle cx="592.43" cy="162.42" r="2.9"/>
<circle cx="592.76" cy="162.76" r="2.9"/>
<circle cx="593.11" cy="165.23" r="2.9"/>
<circle cx="593.35" cy="165.36" r="2.9"/>
<circle cx="593.71" cy="165.39" r="2.9"/>
<circle cx="593.91" cy="166.04" r="2.9"/>
<circle cx="594.25" cy="165.56" r="2.9"/>
<circle cx="594.62" cy="164.48" r="2.9"/>
<circle cx="594.82" cy="165.55" r="2.9"/>
<circle cx="595.13" cy="166.05" r="2.9"/>
<circle cx="595.32" cy="167.39" r="2.9"/>
<circle cx="595.64" cy="166.71" r="2.9"/>
<circle cx="596.11" cy="165.2" r="2.9"/>
<circle cx="596.48" cy="166.5" r="2.9"/>
<circle cx="596.9" cy="167.68" r="2.9"/>
<circle cx="597.34" cy="167.99" r="2.9"/>
<circle cx="597.56" cy="167.14" r="2.9"/>
<circle cx="598.09" cy="167.75" r="2.9"/>
<circle cx="598.52" cy="170.15" r="2.9"/>
<circle cx="598.74" cy="168.6" r="2.9"/>
<circle cx="599.22" cy="170.07" r="2.9"/>
<circle cx="599.54" cy="169.86" r="2.9"/>
<circle cx="599.78" cy="171.02" r="2.9"/>
<circle cx="600.32" cy="171.07" r="2.9"/>
<circle cx="600.71" cy="171.54" r="2.9"/>
<circle cx="601.18" cy="171.84" r="2.9"/>
<circle cx="601.42" cy="173.29" r="2.9"/>
<circle cx="601.9" cy="173.12" r="2.9"/>
<circle cx="602.11" cy="172.05" r="2.9"/>
<circle cx="602.39" cy="174.07" r="2.9"/>
<circle cx="602.72" cy="173.96" r="2.9"/>
<circle cx="602.92" cy="172.29" r="2.9"/>
<circle cx="603.34" cy="174.21" r="2.9"/>
<circle cx="603.62" cy="174.29" r="2.9"/>
<circle cx="603.93" cy="174.87" r="2.9"/>
<circle cx="604.4" cy="173.24" r="2.9"/>
<circle cx="604.76" cy="176.17" r="2.9"/>
<circle cx="605.31" cy="174.77" r="2.9"/>
<circle cx="605.76" cy="174.39" r="2.9"/>
<circle cx="606.31" cy="177.23" r="2.9"/>
<circle cx="606.74" cy="176.84" r="2.9"/>
<circle cx="607.32" cy="176.05" r="2.9"/>
<circle cx="607.89" cy="177.2" r="2.9"/>
<circle cx="608.17" cy="178.35" r="2.9"/>
<circle cx="608.69" cy="180.02" r="2.9"/>
<circle cx="609.04" cy="178.9" r="2.9"/>
<circle cx="609.58" cy="179.68" r="2.9"/>
<circle cx="610.09" cy="178.88" r="2.9"/>
<circle cx="610.66" cy="180.95" r="2.9"/>
<circle cx="610.94" cy="180.78" r="2.9"/>
<circle cx="611.32" cy="180.24" r="2.9"/>
<circle cx="611.87" cy="180.14" r="2.9"/>
<circle cx="612.51" cy="182.45" r="2.9"/>
<circle cx="613.06" cy="182.83" r="2.9"/>
<circle cx="613.31" cy="182.33" r="2.9"/>
<circle cx="613.81" cy="181.47" r="2.9"/>
<circle cx="614.08" cy="184.52" r="2.9"/>
<circle cx="614.56" cy="181.98" r="2.9"/>
<circle cx="615.16" cy="183.52" r="2.9"/>
<circle cx="615.44" cy="185.09" r="2.9"/>
<circle cx="616.11" cy="184.57" r="2.9"/>
<circle cx="616.66" cy="186.39" r="2.9"/>
<circle cx="617.01" cy="187.73" r="2.9"/>
<circle cx="617.34" cy="185.35" r="2.9"/>
<circle cx="617.79" cy="187.25" r="2.9"/>
<circle cx="618.44" cy="187.26" r="2.9"/>
<circle cx="618.96" cy="187.86" r="2.9"/>
<circle cx="619.26" cy="186.52" r="2.9"/>
<circle cx="619.51" cy="187.33" r="2.9"/>
<circle cx="619.81" cy="190.54" r="2.9"/>
<circle cx="620.46" cy="188.85" r="2.9"/>
<circle cx="620.8" cy="189.69" r="2.9"/>
<circle cx="621.32" cy="190.18" r="2.9"/>
<circle cx="621.72" cy="189.01" r="2.9"/>
<circle cx="622.32" cy="191.3" r="2.9"/>
<circle cx="622.77" cy="191.47" r="2.9"/>
<circle cx="623.1" cy="190.06" r="2.9"/>
<circle cx="623.81" cy="192.58" r="2.9"/>
<circle cx="624.35" cy="192.86" r="2.9"/>
<circle cx="624.98" cy="193.35" r="2.9"/>
<circle cx="625.67" cy="192.68" r="2.9"/>
<circle cx="626.45" cy="194.04" r="2.9"/>
<circle cx="626.73" cy="194" r="2.9"/>
<circle cx="627.19" cy="195.86" r="2.9"/>
<circle cx="627.54" cy="197.73" r="2.9"/>
<circle cx="628.1" cy="195.51" r="2.9"/>
<circle cx="628.86" cy="196.75" r="2.9"/>
<circle cx="629.59" cy="196.49" r="2.9"/>
<circle cx="629.89" cy="196.77" r="2.9"/>
<circle cx="630.28" cy="199.97" r="2.9"/>
<circle cx="631.04" cy="200.23" r="2.9"/>
<circle cx="631.73" cy="201.5" r="2.9"/>
<circle cx="632.25" cy="198.71" r="2.9"/>
<circle cx="632.83" cy="202.43" r="2.9"/>
<circle cx="633.23" cy="202.89" r="2.9"/>
<circle cx="634.04" cy="200.77" r="2.9"/>
<circle cx="634.59" cy="202.17" r="2.9"/>
<circle cx="635.43" cy="205.32" r="2.9"/>
<circle cx="636.13" cy="203.24" r="2.9"/>
<circle cx="636.49" cy="203.49" r="2.9"/>
<circle cx="637.02" cy="205.05" r="2.9"/>
<circle cx="637.48" cy="207.43" r="2.9"/>
<circle cx="638.39" cy="205.53" r="2.9"/>
<circle cx="639.11" cy="207.49" r="2.9"/>
<circle cx="639.47" cy="207.13" r="2.9"/>
<circle cx="639.92" cy="205.75" r="2.9"/>
<circle cx="640.51" cy="207.16" r="2.9"/>
<circle cx="641.17" cy="207.6" r="2.9"/>
<circle cx="641.92" cy="211.6" r="2.9"/>
<circle cx="642.55" cy="211.41" r="2.9"/>
<circle cx="643.16" cy="211.22" r="2.9"/>
<circle cx="643.52" cy="213.88" r="2.9"/>
<circle cx="644.31" cy="210.31" r="2.9"/>
<circle cx="644.92" cy="214.12" r="2.9"/>
<circle cx="645.3" cy="214.57" r="2.9"/>
<circle cx="646.01" cy="215.07" r="2.9"/>
<circle cx="647.1" cy="216.46" r="2.9"/>
<circle cx="647.51" cy="214.19" r="2.9"/>
<circle cx="647.99" cy="216.03" r="2.9"/>
<circle cx="648.85" cy="217.13" r="2.9"/>
<circle cx="649.43" cy="218.13" r="2.9"/>
<circle cx="650.01" cy="220.37" r="2.9"/>
<circle cx="650.75" cy="220.01" r="2.9"/>
<circle cx="651.32" cy="218.09" r="2.9"/>
<circle cx="652.12" cy="219.21" r="2.9"/>
<circle cx="652.9" cy="219.76" r="2.9"/>
<circle cx="653.99" cy="223.56" r="2.9"/>
<circle cx="655.12" cy="224.97" r="2.9"/>
<circle cx="655.53" cy="226.06" r="2.9"/>
<circle cx="656.33" cy="224.73" r="2.9"/>
<circle cx="657.3" cy="226.45" r="2.9"/>
<circle cx="658.35" cy="227.13" r="2.9"/>
<circle cx="659.33" cy="228.03" r="2.9"/>
<circle cx="660.2" cy="228.51" r="2.9"/>
<circle cx="661.07" cy="230.38" r="2.9"/>
<circle cx="661.74" cy="229.13" r="2.9"/>
<circle cx="662.34" cy="232.43" r="2.9"/>
<circle cx="663.35" cy="230.26" r="2.9"/>
<circle cx="664.42" cy="232.98" r="2.9"/>
<circle cx="665.54" cy="236.39" r="2.9"/>
<circle cx="666.47" cy="236.17" r="2.9"/>
<circle cx="667.1" cy="235.85" r="2.9"/>
<circle cx="668.09" cy="237.34" r="2.9"/>
<circle cx="669.07" cy="237.63" r="2.9"/>
<circle cx="669.86" cy="239.39" r="2.9"/>
<circle cx="670.75" cy="240.43" r="2.9"/>
<circle cx="671.42" cy="239" r="2.9"/>
<circle cx="672.24" cy="241.78" r="2.9"/>
<circle cx="672.95" cy="240.86" r="2.9"/>
<circle cx="673.39" cy="240.94" r="2.9"/>
<circle cx="674.05" cy="242.38" r="2.9"/>
<circle cx="674.7" cy="243.51" r="2.9"/>
<circle cx="675.86" cy="242.93" r="2.9"/>
<circle cx="676.63" cy="245.42" r="2.9"/>
<circle cx="677.32" cy="244.59" r="2.9"/>
<circle cx="677.9" cy="247.94" r="2.9"/>
<circle cx="678.48" cy="247.23" r="2.9"/>
<circle cx="679.14" cy="247.2" r="2.9"/>
<circle cx="679.64" cy="249.58" r="2.9"/>
<circle cx="680.04" cy="247.37" r="2.9"/>
<circle cx="681.12" cy="250.88" r="2.9"/>
<circle cx="681.86" cy="249.99" r="2.9"/>
<circle cx="682.61" cy="251.94" r="2.9"/>
<circle cx="683.44" cy="250.63" r="2.9"/>
<circle cx="684.07" cy="252.26" r="2.9"/>
<circle cx="684.6" cy="252.13" r="2.9"/>
<circle cx="685.04" cy="253.37" r="2.9"/>
<circle cx="685.67" cy="253.63" r="2.9"/>
<circle cx="686.31" cy="254.36" r="2.9"/>
<circle cx="687.27" cy="256.34" r="2.9"/>
<circle cx="688.1" cy="257.43" r="2.9"/>
<circle cx="689.22" cy="257.38" r="2.9"/>
<circle cx="689.88" cy="259.5" r="2.9"/>
<circle cx="691" cy="259.32" r="2.9"/>
<circle cx="691.85" cy="261.52" r="2.9"/>
<circle cx="692.31" cy="262.18" r="2.9"/>
<circle cx="692.84" cy="262.76" r="2.9"/>
<circle cx="538.34" cy="126.07" r="2.9"/>
<circle cx="548.89" cy="134.98" r="2.9"/>
<circle cx="552.62" cy="134.98" r="2.9"/>
<circle cx="549.33" cy="211.8" r="2.9"/>
<circle cx="592.74" cy="211.43" r="2.9"/>
<circle cx="708.24" cy="248.17" r="2.9"/>
<circle cx="468" cy="64.71" r="2.9"/>
<circle cx="469.1" cy="66.51" r="2.9"/>
<circle cx="470.2" cy="67.9" r="2.9"/>
<circle cx="471.3" cy="67.11" r="2.9"/>
<circle cx="472.4" cy="69.77" r="2.9"/>
<circle cx="473.5" cy="70.09" r="2.9"/>
<circle cx="474.59" cy="69.25" r="2.9"/>
<circle cx="475.69" cy="72.19" r="2.9"/>
<circle cx="476.79" cy="72.09" r="2.9"/>
</g>
<g fill="none" stroke="#ff0000" stroke-width="1.2">
<path d="M478.99 66.17L482.59 72L475.39 72Z"/>
<path d="M483.17 69.17L486.77 75.01L479.57 75.01Z"/>
<path d="M487.34 72.18L490.94 78.01L483.74 78.01Z"/>
<path d="M491.52 75.18L495.12 81.01L487.92 81.01Z"/>
<path d="M495.69 78.18L499.29 84.01L492.09 84.01Z"/>
<path d="M499.87 81.18L503.47 87.01L496.27 87.01Z"/>
<path d="M504.05 84.19L507.65 90.02L500.45 90.02Z"/>
<path d="M508.22 87.19L511.82 93.02L504.62 93.02Z"/>
<path d="M512.4 90.19L516 96.02L508.8 96.02Z"/>
<path d="M516.58 93.19L520.18 99.02L512.98 99.02Z"/>
<path d="M518.84 94.91L522.44 100.74L515.24 100.74Z"/>
<path d="M519.16 96.26L522.76 102.09L515.56 102.09Z"/>
<path d="M519.36 94.82L522.96 100.65L515.76 100.65Z"/>
<path d="M519.61 96.63L523.21 102.46L516.01 102.46Z"/>
<path d="M519.78 95.75L523.38 101.58L516.18 101.58Z"/>
<path d="M520.09 96.17L523.69 102L516.49 102Z"/>
<path d="M520.35 97.15L523.95 102.99L516.75 102.99Z"/>
<path d="M520.5 96.06L524.1 101.9L516.9 101.9Z"/>
<path d="M520.62 95.96L524.22 101.8L517.02 101.8Z"/>
<path d="M520.89 96.48L524.49 102.31L517.29 102.31Z"/>
<path d="M521.01 96.97L524.61 102.8L517.41 102.8Z"/>
<path d="M521.31 96.97L524.91 102.8L517.71 102.8Z"/>
<path d="M521.48 96.95L525.08 102.78L517.88 102.78Z"/>
<path d="M521.65 97.85L525.25 103.69L518.05 103.69Z"/>
<path d="M521.89 96.69L525.49 102.52L518.29 102.52Z"/>
<path d="M522.07 96.57L525.67 102.4L518.47 102.4Z"/>
<path d="M522.31 97.17L525.91 103L518.71 103Z"/>
<path d="M522.46 96.96L526.06 102.79L518.86 102.79Z"/>
<path d="M522.77 98.55L526.37 104.38L519.17 104.38Z"/>
<path d="M522.96 97.32L526.56 103.15L519.36 103.15Z"/>
<path d="M523.26 99.45L526.86 105.28L519.66 105.28Z"/>
<path d="M523.41 98.7L527.01 104.53L519.81 104.53Z"/>
<path d="M523.7 99.62L527.3 105.46L520.1 105.46Z"/>
<path d="M524.03 99.19L527.63 105.02L520.43 105.02Z"/>
<path d="M524.23 98.85L527.83 104.68L520.63 104.68Z"/>
<path d="M524.35 98.88L527.95 104.71L520.75 104.71Z"/>
<path d="M524.55 99.55L528.15 105.38L520.95 105.38Z"/>
<path d="M524.81 99.96L528.41 105.8L521.21 105.8Z"/>
<path d="M524.98 100.39L528.58 106.23L521.38 106.23Z"/>
<path d="M525.21 100.12L528.81 105.95L521.61 105.95Z"/>
<path d="M525.35 100.46L528.95 106.29L521.75 106.29Z"/>
<path d="M525.57 100.8L529.17 106.63L521.97 106.63Z"/>
<path d="M525.85 99.87L529.45 105.7L522.25 105.7Z"/>
<path d="M526.06 100.47L529.66 106.31L522.46 106.31Z"/>
<path d="M526.33 100.82L529.93 106.65L522.73 106.65Z"/>
<path d="M526.47 101.42L530.07 107.25L522.87 107.25Z"/>
<path d="M526.77 100.59L530.37 106.42L523.17 106.42Z"/>
<path d="M526.92 101.73L530.52 107.56L523.32 107.56Z"/>
<path d="M527.24 101.82L530.84 107.65L523.64 107.65Z"/>
<path d="M527.59 101.45L531.19 107.28L523.99 107.28Z"/>
<path d="M527.92 101.39L531.52 107.23L524.32 107.23Z"/>
<path d="M528.16 101.01L531.76 106.84L524.56 106.84Z"/>
<path d="M528.34 101.59L531.94 107.43L524.74 107.43Z"/>
<path d="M528.53 101.32L532.13 107.15L524.93 107.15Z"/>
<path d="M528.82 101.58L532.42 107.42L525.22 107.42Z"/>
<path d="M529.06 102.15L532.66 107.98L525.46 107.98Z"/>
<path d="M529.39 102.39L532.99 108.22L525.79 108.22Z"/>
<path d="M529.53 103.82L533.13 109.65L525.93 109.65Z"/>
<path d="M529.75 103.69L533.35 109.52L526.15 109.52Z"/>
<path d="M530.07 104.3L533.67 110.13L526.47 110.13Z"/>
<path d="M530.33 102.76L533.93 108.59L526.73 108.59Z"/>
<path d="M530.57 103.21L534.17 109.04L526.97 109.04Z"/>
<path d="M530.71 103.49L534.31 109.33L527.11 109.33Z"/>
<path d="M530.86 104.34L534.46 110.17L527.26 110.17Z"/>
<path d="M531.04 104.28L534.64 110.11L527.44 110.11Z"/>
<path d="M531.37 104.89L534.97 110.72L527.77 110.72Z"/>
<path d="M531.68 104.17L535.28 110L528.08 110Z"/>
<path d="M531.85 103.57L535.45 109.4L528.25 109.4Z"/>
<path d="M532.19 105.18L535.79 111.01L528.59 111.01Z"/>
<path d="M532.32 105.79L535.92 111.62L528.72 111.62Z"/>
<path d="M532.58 105.71L536.18 111.54L528.98 111.54Z"/>
<path d="M532.92 105.59L536.52 111.42L529.32 111.42Z"/>
<path d="M533.12 104.65L536.72 110.48L529.52 110.48Z"/>
<path d="M533.46 105.08L537.06 110.91L529.86 110.91Z"/>
<path d="M533.74 105.96L537.34 111.8L530.14 111.8Z"/>
<path d="M533.87 106.75L537.47 112.59L530.27 112.59Z"/>
<path d="M534.07 106.88L537.67 112.72L530.47 112.72Z"/>
<path d="M534.3 106.95L537.9 112.78L530.7 112.78Z"/>
<path d="M534.47 105.84L538.07 111.67L530.87 111.67Z"/>
<path d="M534.77 106.65L538.37 112.48L531.17 112.48Z"/>
<path d="M534.93 105.74L538.53 111.58L531.33 111.58Z"/>
<path d="M535.24 106.12L538.84 111.95L531.64 111.95Z"/>
<path d="M535.43 106.48L539.03 112.31L531.83 112.31Z"/>
<path d="M535.57 107.2L539.17 113.03L531.97 113.03Z"/>
<path d="M535.83 106.7L539.43 112.53L532.23 112.53Z"/>
<path d="M535.97 108.16L539.57 113.99L532.37 113.99Z"/>
<path d="M536.22 108.37L539.82 114.21L532.62 114.21Z"/>
<path d="M536.53 107.7L540.13 113.54L532.93 113.54Z"/>
<path d="M536.8 108L540.4 113.83L533.2 113.83Z"/>
<path d="M537.03 108.74L540.63 114.57L533.43 114.57Z"/>
<path d="M537.16 108.75L540.76 114.58L533.56 114.58Z"/>
<path d="M537.41 109.37L541.01 115.2L533.81 115.2Z"/>
<path d="M537.55 107.75L541.15 113.58L533.95 113.58Z"/>
<path d="M537.83 108.33L541.43 114.16L534.23 114.16Z"/>
<path d="M537.98 107.98L541.58 113.81L534.38 113.81Z"/>
<path d="M538.25 108.1L541.85 113.93L534.65 113.93Z"/>
<path d="M538.46 109.29L542.06 115.13L534.86 115.13Z"/>
<path d="M538.67 108.87L542.27 114.7L535.07 114.7Z"/>
<path d="M538.95 109.74L542.55 115.57L535.35 115.57Z"/>
<path d="M539.12 109.03L542.72 114.87L535.52 114.87Z"/>
<path d="M539.28 109.09L542.88 114.92L535.68 114.92Z"/>
<path d="M539.63 110.7L543.23 116.53L536.03 116.53Z"/>
<path d="M539.84 111.07L543.44 116.9L536.24 116.9Z"/>
<path d="M540.17 110.92L543.77 116.75L536.57 116.75Z"/>
<path d="M540.51 110.44L544.11 116.28L536.91 116.28Z"/>
<path d="M540.75 111.01L544.35 116.84L537.15 116.84Z"/>
<path d="M540.91 111.82L544.51 117.65L537.31 117.65Z"/>
<path d="M541.06 110.36L544.66 116.2L537.46 116.2Z"/>
<path d="M541.4 110.69L545 116.52L537.8 116.52Z"/>
<path d="M541.55 111.41L545.15 117.24L537.95 117.24Z"/>
<path d="M541.8 112.37L545.4 118.21L538.2 118.21Z"/>
<path d="M542.06 110.96L545.66 116.79L538.46 116.79Z"/>
<path d="M542.21 111.73L545.81 117.57L538.61 117.57Z"/>
<path d="M542.46 112.78L546.06 118.61L538.86 118.61Z"/>
<path d="M542.62 112.42L546.22 118.25L539.02 118.25Z"/>
<path d="M542.88 112.03L546.48 117.86L539.28 117.86Z"/>
<path d="M543.13 111.72L546.73 117.55L539.53 117.55Z"/>
<path d="M543.35 112.62L546.95 118.45L539.75 118.45Z"/>
<path d="M543.53 112.45L547.13 118.29L539.93 118.29Z"/>
<path d="M543.75 113.42L547.35 119.26L540.15 119.26Z"/>
<path d="M543.93 113.48L547.53 119.31L540.33 119.31Z"/>
<path d="M544.09 112.35L547.69 118.18L540.49 118.18Z"/>
<path d="M544.28 113.46L547.88 119.29L540.68 119.29Z"/>
<path d="M544.62 114.22L548.22 120.05L541.02 120.05Z"/>
<path d="M544.88 113.49L548.48 119.32L541.28 119.32Z"/>
<path d="M545.23 114.6L548.83 120.43L541.63 120.43Z"/>
<path d="M545.36 114.55L548.96 120.38L541.76 120.38Z"/>
<path d="M545.73 114.33L549.33 120.17L542.13 120.17Z"/>
<path d="M545.98 114.27L549.58 120.1L542.38 120.1Z"/>
<path d="M546.31 114.41L549.91 120.24L542.71 120.24Z"/>
<path d="M546.58 114.47L550.18 120.3L542.98 120.3Z"/>
<path d="M546.89 115.17L550.49 121.01L543.29 121.01Z"/>
<path d="M547.07 115.99L550.67 121.82L543.47 121.82Z"/>
<path d="M547.39 115.01L550.99 120.84L543.79 120.84Z"/>
<path d="M547.56 116.35L551.16 122.18L543.96 122.18Z"/>
<path d="M547.76 115.73L551.36 121.56L544.16 121.56Z"/>
<path d="M547.9 115.95L551.5 121.78L544.3 121.78Z"/>
<path d="M548.13 115.62L551.73 121.45L544.53 121.45Z"/>
<path d="M548.39 115.73L551.99 121.56L544.79 121.56Z"/>
<path d="M548.59 116.73L552.19 122.56L544.99 122.56Z"/>
<path d="M548.95 116.24L552.55 122.07L545.35 122.07Z"/>
<path d="M549.11 116.27L552.71 122.1L545.51 122.1Z"/>
<path d="M549.39 116.86L552.99 122.7L545.79 122.7Z"/>
<path d="M549.58 117.59L553.18 123.42L545.98 123.42Z"/>
<path d="M549.86 116.41L553.46 122.24L546.26 122.24Z"/>
<path d="M550.2 117.2L553.8 123.03L546.6 123.03Z"/>
<path d="M550.52 118.38L554.12 124.22L546.92 124.22Z"/>
<path d="M550.66 118.17L554.26 124L547.06 124Z"/>
<path d="M550.86 116.97L554.46 122.8L547.26 122.8Z"/>
<path d="M551.15 118.53L554.75 124.36L547.55 124.36Z"/>
<path d="M551.54 118.51L555.14 124.34L547.94 124.34Z"/>
<path d="M551.68 117.9L555.28 123.73L548.08 123.73Z"/>
<path d="M551.98 118.05L555.58 123.88L548.38 123.88Z"/>
<path d="M552.29 118.6L555.89 124.44L548.69 124.44Z"/>
<path d="M552.64 118.66L556.24 124.49L549.04 124.49Z"/>
<path d="M552.86 120.06L556.46 125.89L549.26 125.89Z"/>
<path d="M553.21 120.2L556.81 126.03L549.61 126.03Z"/>
<path d="M553.47 118.83L557.07 124.66L549.87 124.66Z"/>
<path d="M553.85 119.4L557.45 125.23L550.25 125.23Z"/>
<path d="M553.98 120.84L557.58 126.67L550.38 126.67Z"/>
<path d="M554.37 121.08L557.97 126.92L550.77 126.92Z"/>
<path d="M554.61 120.92L558.21 126.75L551.01 126.75Z"/>
<path d="M554.86 119.88L558.46 125.72L551.26 125.72Z"/>
<path d="M555.02 121.24L558.62 127.07L551.42 127.07Z"/>
<path d="M555.22 120.59L558.82 126.42L551.62 126.42Z"/>
<path d="M555.55 120.37L559.15 126.2L551.95 126.2Z"/>
<path d="M555.87 121.1L559.47 126.93L552.27 126.93Z"/>
<path d="M556.04 120.74L559.64 126.57L552.44 126.57Z"/>
<path d="M556.27 122.04L559.87 127.87L552.67 127.87Z"/>
<path d="M556.45 122.35L560.05 128.18L552.85 128.18Z"/>
<path d="M556.64 122.71L560.24 128.54L553.04 128.54Z"/>
<path d="M556.83 121.57L560.43 127.41L553.23 127.41Z"/>
<path d="M557.06 122.86L560.66 128.69L553.46 128.69Z"/>
<path d="M557.46 121.65L561.06 127.48L553.86 127.48Z"/>
<path d="M557.87 122.38L561.47 128.22L554.27 128.22Z"/>
<path d="M558.23 123.52L561.83 129.36L554.63 129.36Z"/>
<path d="M558.5 122.66L562.1 128.49L554.9 128.49Z"/>
<path d="M558.77 123.94L562.37 129.78L555.17 129.78Z"/>
<path d="M559.12 123.6L562.72 129.43L555.52 129.43Z"/>
<path d="M559.51 124.56L563.11 130.39L555.91 130.39Z"/>
<path d="M559.86 123.65L563.46 129.48L556.26 129.48Z"/>
<path d="M560.18 123.7L563.78 129.53L556.58 129.53Z"/>
<path d="M560.37 123.79L563.97 129.62L556.77 129.62Z"/>
<path d="M560.68 125.54L564.28 131.38L557.08 131.38Z"/>
<path d="M561.06 124.38L564.66 130.21L557.46 130.21Z"/>
<path d="M561.42 125.13L565.02 130.96L557.82 130.96Z"/>
<path d="M561.59 124.8L565.19 130.63L557.99 130.63Z"/>
<path d="M561.93 125.57L565.53 131.41L558.33 131.41Z"/>
<path d="M562.17 125.55L565.77 131.38L558.57 131.38Z"/>
<path d="M562.35 125.72L565.95 131.55L558.75 131.55Z"/>
<path d="M562.77 125.67L566.37 131.5L559.17 131.5Z"/>
<path d="M563.1 127.09L566.7 132.93L559.5 132.93Z"/>
<path d="M563.45 127.38L567.05 133.21L559.85 133.21Z"/>
<path d="M563.63 126.7L567.23 132.53L560.03 132.53Z"/>
<path d="M564.01 127.38L567.61 133.21L560.41 133.21Z"/>
<path d="M564.42 127.49L568.02 133.32L560.82 133.32Z"/>
<path d="M564.82 128.41L568.42 134.24L561.22 134.24Z"/>
<path d="M565.18 127.45L568.78 133.28L561.58 133.28Z"/>
<path d="M565.56 128.89L569.16 134.72L561.96 134.72Z"/>
<path d="M565.94 127.85L569.54 133.68L562.34 133.68Z"/>
<path d="M566.25 128.1L569.85 133.93L562.65 133.93Z"/>
<path d="M566.53 128.86L570.13 134.69L562.93 134.69Z"/>
<path d="M566.91 129.67L570.51 135.5L563.31 135.5Z"/>
<path d="M567.28 129.08L570.88 134.91L563.68 134.91Z"/>
<path d="M567.68 130.07L571.28 135.9L564.08 135.9Z"/>
<path d="M567.92 129.88L571.52 135.71L564.32 135.71Z"/>
<path d="M568.34 130.68L571.94 136.52L564.74 136.52Z"/>
<path d="M568.65 129.52L572.25 135.35L565.05 135.35Z"/>
<path d="M569.07 130.5L572.67 136.33L565.47 136.33Z"/>
<path d="M569.26 130.93L572.86 136.77L565.66 136.77Z"/>
<path d="M569.69 131.64L573.29 137.48L566.09 137.48Z"/>
<path d="M570.07 130.91L573.67 136.74L566.47 136.74Z"/>
<path d="M570.29 130.87L573.89 136.7L566.69 136.7Z"/>
<path d="M570.69 131.1L574.29 136.93L567.09 136.93Z"/>
<path d="M570.91 132.4L574.51 138.23L567.31 138.23Z"/>
<path d="M571.12 132.1L574.72 137.93L567.52 137.93Z"/>
<path d="M571.41 132.37L575.01 138.2L567.81 138.2Z"/>
<path d="M571.63 131.78L575.23 137.61L568.03 137.61Z"/>
<path d="M571.93 132.91L575.53 138.74L568.33 138.74Z"/>
<path d="M572.35 132.44L575.95 138.27L568.75 138.27Z"/>
<path d="M572.71 132.07L576.31 137.91L569.11 137.91Z"/>
<path d="M573.07 132.61L576.67 138.44L569.47 138.44Z"/>
<path d="M573.34 133.94L576.94 139.77L569.74 139.77Z"/>
<path d="M573.73 134.06L577.33 139.89L570.13 139.89Z"/>
<path d="M574.13 134.23L577.73 140.06L570.53 140.06Z"/>
<path d="M574.49 133.55L578.09 139.38L570.89 139.38Z"/>
<path d="M574.93 133.95L578.53 139.78L571.33 139.78Z"/>
<path d="M575.34 134.31L578.94 140.14L571.74 140.14Z"/>
<path d="M575.62 134.57L579.22 140.4L572.02 140.4Z"/>
<path d="M575.8 134.74L579.4 140.58L572.2 140.58Z"/>
<path d="M576.16 134.64L579.76 140.47L572.56 140.47Z"/>
<path d="M576.57 134.83L580.17 140.66L572.97 140.66Z"/>
<path d="M576.83 134.58L580.43 140.41L573.23 140.41Z"/>
<path d="M577.17 135.05L580.77 140.88L573.57 140.88Z"/>
<path d="M577.59 135.2L581.19 141.03L573.99 141.03Z"/>
<path d="M578 135.27L581.6 141.1L574.4 141.1Z"/>
<path d="M578.15 135.49L581.75 141.33L574.55 141.33Z"/>
<path d="M578.47 135.89L582.07 141.72L574.87 141.72Z"/>
<path d="M578.63 137.06L582.23 142.89L575.03 142.89Z"/>
<path d="M578.82 136.19L582.42 142.03L575.22 142.03Z"/>
<path d="M579.24 136.22L582.84 142.05L575.64 142.05Z"/>
<path d="M579.53 137.09L583.13 142.92L575.93 142.92Z"/>
<path d="M579.89 136.62L583.49 142.45L576.29 142.45Z"/>
<path d="M580.2 137.97L583.8 143.8L576.6 143.8Z"/>
<path d="M580.47 136.91L584.07 142.74L576.87 142.74Z"/>
<path d="M580.7 137.9L584.3 143.73L577.1 143.73Z"/>
<path d="M580.98 137.65L584.58 143.48L577.38 143.48Z"/>
<path d="M581.42 138.74L585.02 144.57L577.82 144.57Z"/>
<path d="M581.79 138.92L585.39 144.75L578.19 144.75Z"/>
<path d="M582.05 139.03L585.65 144.86L578.45 144.86Z"/>
<path d="M582.24 139.21L585.84 145.04L578.64 145.04Z"/>
<path d="M582.5 139.81L586.1 145.64L578.9 145.64Z"/>
<path d="M582.9 139.47L586.5 145.3L579.3 145.3Z"/>
<path d="M583.22 138.7L586.82 144.53L579.62 144.53Z"/>
<path d="M583.61 139.58L587.21 145.41L580.01 145.41Z"/>
<path d="M584.05 139.36L587.65 145.19L580.45 145.19Z"/>
<path d="M584.26 139.83L587.86 145.66L580.66 145.66Z"/>
<path d="M584.67 139.96L588.27 145.8L581.07 145.8Z"/>
<path d="M584.85 139.79L588.45 145.62L581.25 145.62Z"/>
<path d="M585.31 140.57L588.91 146.41L581.71 146.41Z"/>
<path d="M585.55 141.7L589.15 147.53L581.95 147.53Z"/>
<path d="M585.82 141.94L589.42 147.77L582.22 147.77Z"/>
<path d="M586.33 141.98L589.93 147.81L582.73 147.81Z"/>
<path d="M586.63 143.01L590.23 148.84L583.03 148.84Z"/>
<path d="M586.89 142.76L590.49 148.59L583.29 148.59Z"/>
<path d="M587.38 141.72L590.98 147.56L583.78 147.56Z"/>
<path d="M587.78 141.92L591.38 147.75L584.18 147.75Z"/>
<path d="M588.28 143.56L591.88 149.39L584.68 149.39Z"/>
<path d="M588.61 142.82L592.21 148.65L585.01 148.65Z"/>
<path d="M588.97 143.06L592.57 148.89L585.37 148.89Z"/>
<path d="M589.51 143.17L593.11 149L585.91 149Z"/>
<path d="M589.88 143.64L593.48 149.47L586.28 149.47Z"/>
<path d="M590.43 144.63L594.03 150.46L586.83 150.46Z"/>
<path d="M590.69 145.82L594.29 151.65L587.09 151.65Z"/>
<path d="M591.19 144.47L594.79 150.3L587.59 150.3Z"/>
<path d="M591.44 145.87L595.04 151.7L587.84 151.7Z"/>
<path d="M591.83 145.39L595.43 151.23L588.23 151.23Z"/>
<path d="M592.03 146.16L595.63 151.99L588.43 151.99Z"/>
<path d="M592.29 145.93L595.89 151.76L588.69 151.76Z"/>
<path d="M592.84 145.26L596.44 151.09L589.24 151.09Z"/>
<path d="M593.22 147.53L596.82 153.37L589.62 153.37Z"/>
<path d="M593.73 146.97L597.33 152.8L590.13 152.8Z"/>
<path d="M594.03 146.87L597.63 152.7L590.43 152.7Z"/>
<path d="M594.37 147.4L597.97 153.23L590.77 153.23Z"/>
<path d="M594.61 146.52L598.21 152.35L591.01 152.35Z"/>
<path d="M595.03 148.21L598.63 154.04L591.43 154.04Z"/>
<path d="M595.58 147.25L599.18 153.08L591.98 153.08Z"/>
<path d="M595.99 148.14L599.59 153.97L592.39 153.97Z"/>
<path d="M596.35 147.63L599.95 153.46L592.75 153.46Z"/>
<path d="M596.94 150.46L600.54 156.29L593.34 156.29Z"/>
<path d="M597.52 150.54L601.12 156.38L593.92 156.38Z"/>
<path d="M598.01 150.69L601.61 156.52L594.41 156.52Z"/>
<path d="M598.26 149.09L601.86 154.93L594.66 154.93Z"/>
<path d="M598.74 152L602.34 157.84L595.14 157.84Z"/>
<path d="M599.15 151.59L602.75 157.42L595.55 157.42Z"/>
<path d="M599.78 150.7L603.38 156.53L596.18 156.53Z"/>
<path d="M600.16 150.09L603.76 155.93L596.56 155.93Z"/>
<path d="M600.67 152.81L604.27 158.64L597.07 158.64Z"/>
<path d="M601.17 152.3L604.77 158.13L597.57 158.13Z"/>
<path d="M601.57 151.74L605.17 157.58L597.97 157.58Z"/>
<path d="M602.03 151.98L605.63 157.81L598.43 157.81Z"/>
<path d="M602.57 152.09L606.17 157.92L598.97 157.92Z"/>
<path d="M603.22 152.4L606.82 158.24L599.62 158.24Z"/>
<path d="M603.69 154.28L607.29 160.11L600.09 160.11Z"/>
<path d="M604.1 154.48L607.7 160.31L600.5 160.31Z"/>
<path d="M604.8 155.62L608.4 161.46L601.2 161.46Z"/>
<path d="M605.07 153.58L608.67 159.41L601.47 159.41Z"/>
<path d="M605.72 155.54L609.32 161.37L602.12 161.37Z"/>
<path d="M606.3 155.69L609.9 161.53L602.7 161.53Z"/>
<path d="M606.82 153.56L610.42 159.39L603.22 159.39Z"/>
<path d="M607.3 154.92L610.9 160.75L603.7 160.75Z"/>
<path d="M607.94 155.44L611.54 161.27L604.34 161.27Z"/>
<path d="M608.65 155.59L612.25 161.42L605.05 161.42Z"/>
<path d="M609.3 156.14L612.9 161.97L605.7 161.97Z"/>
<path d="M609.96 156.14L613.56 161.97L606.36 161.97Z"/>
<path d="M610.25 157.73L613.85 163.56L606.65 163.56Z"/>
<path d="M610.69 158.86L614.29 164.7L607.09 164.7Z"/>
<path d="M611.04 159.05L614.64 164.88L607.44 164.88Z"/>
<path d="M611.84 159.7L615.44 165.54L608.24 165.54Z"/>
<path d="M612.62 158.82L616.22 164.65L609.02 164.65Z"/>
<path d="M612.98 159.86L616.58 165.7L609.38 165.7Z"/>
<path d="M613.59 160.32L617.19 166.16L609.99 166.16Z"/>
<path d="M614.2 159.17L617.8 165L610.6 165Z"/>
<path d="M614.52 157.46L618.12 163.29L610.92 163.29Z"/>
<path d="M615.03 158.84L618.63 164.68L611.43 164.68Z"/>
<path d="M615.75 160.9L619.35 166.73L612.15 166.73Z"/>
<path d="M616.42 159.24L620.02 165.07L612.82 165.07Z"/>
<path d="M616.88 161.92L620.48 167.75L613.28 167.75Z"/>
<path d="M617.63 162.66L621.23 168.5L614.03 168.5Z"/>
<path d="M618.1 162.08L621.7 167.91L614.5 167.91Z"/>
<path d="M618.73 161.98L622.33 167.81L615.13 167.81Z"/>
<path d="M619.29 161.08L622.89 166.92L615.69 166.92Z"/>
<path d="M620.19 162.62L623.79 168.45L616.59 168.45Z"/>
<path d="M620.91 161.77L624.51 167.6L617.31 167.6Z"/>
<path d="M621.72 165.01L625.32 170.84L618.12 170.84Z"/>
<path d="M622.47 161.67L626.07 167.5L618.87 167.5Z"/>
<path d="M623.03 164.63L626.63 170.46L619.43 170.46Z"/>
<path d="M623.97 162.9L627.57 168.73L620.37 168.73Z"/>
<path d="M624.76 167.03L628.36 172.87L621.16 172.87Z"/>
<path d="M625.55 163.73L629.15 169.56L621.95 169.56Z"/>
<path d="M626.07 166.86L629.67 172.69L622.47 172.69Z"/>
<path d="M626.52 164.11L630.12 169.94L622.92 169.94Z"/>
<path d="M627.24 164.73L630.84 170.57L623.64 170.57Z"/>
<path d="M628.15 165.85L631.75 171.68L624.55 171.68Z"/>
<path d="M629.05 168.27L632.65 174.1L625.45 174.1Z"/>
<path d="M629.65 169.93L633.25 175.77L626.05 175.77Z"/>
<path d="M630.11 169.29L633.71 175.12L626.51 175.12Z"/>
<path d="M630.83 166.08L634.43 171.92L627.23 171.92Z"/>
<path d="M631.83 170.43L635.43 176.26L628.23 176.26Z"/>
<path d="M632.32 168.11L635.92 173.95L628.72 173.95Z"/>
<path d="M633.24 169.01L636.84 174.84L629.64 174.84Z"/>
<path d="M633.75 168.92L637.35 174.76L630.15 174.76Z"/>
<path d="M634.36 171.81L637.96 177.64L630.76 177.64Z"/>
<path d="M634.79 172.27L638.39 178.1L631.19 178.1Z"/>
<path d="M635.41 172.89L639.01 178.72L631.81 178.72Z"/>
<path d="M636.1 168.65L639.7 174.48L632.5 174.48Z"/>
<path d="M637.26 172.52L640.86 178.35L633.66 178.35Z"/>
<path d="M638.44 171.8L642.04 177.64L634.84 177.64Z"/>
<path d="M639.01 172.59L642.61 178.42L635.41 178.42Z"/>
<path d="M639.68 174.85L643.28 180.68L636.08 180.68Z"/>
<path d="M640.9 176.45L644.5 182.28L637.3 182.28Z"/>
<path d="M641.51 177.09L645.11 182.92L637.91 182.92Z"/>
<path d="M642.23 173L645.83 178.83L638.63 178.83Z"/>
<path d="M643.06 177.42L646.66 183.25L639.46 183.25Z"/>
<path d="M643.61 173.23L647.21 179.06L640.01 179.06Z"/>
<path d="M644.3 176.91L647.9 182.74L640.7 182.74Z"/>
<path d="M645.12 175.44L648.72 181.28L641.52 181.28Z"/>
<path d="M645.93 179.14L649.53 184.97L642.33 184.97Z"/>
<path d="M647.28 176.38L650.88 182.22L643.68 182.22Z"/>
<path d="M647.99 179.78L651.59 185.61L644.39 185.61Z"/>
<path d="M648.64 179.54L652.24 185.37L645.04 185.37Z"/>
<path d="M649.95 179.46L653.55 185.29L646.35 185.29Z"/>
<path d="M650.83 182.3L654.43 188.13L647.23 188.13Z"/>
<path d="M652.08 182.3L655.68 188.13L648.48 188.13Z"/>
<path d="M653.14 179.85L656.74 185.69L649.54 185.69Z"/>
<path d="M654.34 183.47L657.94 189.31L650.74 189.31Z"/>
<path d="M655.11 183.4L658.71 189.23L651.51 189.23Z"/>
<path d="M655.72 181.58L659.32 187.41L652.12 187.41Z"/>
<path d="M656.91 185.4L660.51 191.23L653.31 191.23Z"/>
<path d="M657.83 186.13L661.43 191.96L654.23 191.96Z"/>
<path d="M658.83 186.6L662.43 192.44L655.23 192.44Z"/>
<path d="M659.95 186.33L663.55 192.16L656.35 192.16Z"/>
<path d="M661.14 187.17L664.74 193L657.54 193Z"/>
<path d="M661.88 186L665.48 191.84L658.28 191.84Z"/>
<path d="M662.71 187.5L666.31 193.33L659.11 193.33Z"/>
<path d="M664.07 185.98L667.67 191.81L660.47 191.81Z"/>
<path d="M665.07 191.42L668.67 197.26L661.47 197.26Z"/>
<path d="M665.83 188.25L669.43 194.09L662.23 194.09Z"/>
<path d="M666.93 187.89L670.53 193.72L663.33 193.72Z"/>
<path d="M667.67 191.91L671.27 197.74L664.07 197.74Z"/>
<path d="M668.91 193.88L672.51 199.72L665.31 199.72Z"/>
<path d="M669.43 191.78L673.03 197.61L665.83 197.61Z"/>
<path d="M670.73 194.48L674.33 200.31L667.13 200.31Z"/>
<path d="M671.78 193.07L675.38 198.9L668.18 198.9Z"/>
<path d="M672.62 192.09L676.22 197.92L669.02 197.92Z"/>
<path d="M674.04 196.62L677.64 202.45L670.44 202.45Z"/>
<path d="M674.8 196.94L678.4 202.77L671.2 202.77Z"/>
<path d="M675.54 195.24L679.14 201.07L671.94 201.07Z"/>
<path d="M676.11 197.4L679.71 203.23L672.51 203.23Z"/>
<path d="M677.16 197.69L680.76 203.52L673.56 203.52Z"/>
<path d="M678.41 197.21L682.01 203.04L674.81 203.04Z"/>
<path d="M679.59 199.84L683.19 205.67L675.99 205.67Z"/>
<path d="M680.51 200.69L684.11 206.53L676.91 206.53Z"/>
<path d="M681.83 199.75L685.43 205.58L678.23 205.58Z"/>
<path d="M682.45 199.49L686.05 205.32L678.85 205.32Z"/>
<path d="M683.27 197.21L686.87 203.04L679.67 203.04Z"/>
<path d="M684.43 200.18L688.03 206.01L680.83 206.01Z"/>
<path d="M685.93 203.96L689.53 209.79L682.33 209.79Z"/>
<path d="M687.09 203.76L690.69 209.59L683.49 209.59Z"/>
<path d="M688.32 201.37L691.92 207.2L684.72 207.2Z"/>
<path d="M689.63 203.21L693.23 209.04L686.03 209.04Z"/>
<path d="M690.56 201.92L694.16 207.75L686.96 207.75Z"/>
<path d="M692.06 202.24L695.66 208.07L688.46 208.07Z"/>
<path d="M693.35 203.61L696.95 209.44L689.75 209.44Z"/>
<path d="M694.23 208.56L697.83 214.39L690.63 214.39Z"/>
<path d="M695.17 204.15L698.77 209.98L691.57 209.98Z"/>
<path d="M696.54 207.43L700.14 213.26L692.94 213.26Z"/>
<path d="M697.44 209.65L701.04 215.48L693.84 215.48Z"/>
<path d="M698.17 210.48L701.77 216.31L694.57 216.31Z"/>
<path d="M699.62 207.2L703.22 213.03L696.02 213.03Z"/>
<path d="M700.72 211.71L704.32 217.54L697.12 217.54Z"/>
<path d="M701.82 213.11L705.42 218.94L698.22 218.94Z"/>
<path d="M703.07 212.75L706.67 218.59L699.47 218.59Z"/>
<path d="M704.58 209.72L708.18 215.55L700.98 215.55Z"/>
<path d="M705.27 212.86L708.87 218.69L701.67 218.69Z"/>
<path d="M706.18 211.78L709.78 217.62L702.58 217.62Z"/>
<path d="M706.79 216.04L710.39 221.87L703.19 221.87Z"/>
<path d="M707.79 214.37L711.39 220.2L704.19 220.2Z"/>
<path d="M708.88 215.8L712.48 221.64L705.28 221.64Z"/>
<path d="M710.36 217.33L713.96 223.16L706.76 223.16Z"/>
<path d="M711.65 215.36L715.25 221.19L708.05 221.19Z"/>
<path d="M712.84 217.84L716.44 223.67L709.24 223.67Z"/>
<path d="M713.85 219.86L717.45 225.69L710.25 225.69Z"/>
<path d="M715.05 215.42L718.65 221.25L711.45 221.25Z"/>
<path d="M715.91 218.9L719.51 224.74L712.31 224.74Z"/>
<path d="M717.43 221.57L721.03 227.4L713.83 227.4Z"/>
<path d="M718.89 223.33L722.49 229.16L715.29 229.16Z"/>
<path d="M720.41 220.31L724.01 226.14L716.81 226.14Z"/>
<path d="M721.16 221.51L724.76 227.34L717.56 227.34Z"/>
<path d="M722.51 225.1L726.11 230.93L718.91 230.93Z"/>
<path d="M723.96 223.22L727.56 229.05L720.36 229.05Z"/>
<path d="M725.12 222.24L728.72 228.07L721.52 228.07Z"/>
<path d="M726.76 224.27L730.36 230.1L723.16 230.1Z"/>
<path d="M728.4 226.87L732 232.7L724.8 232.7Z"/>
<path d="M729.87 226.1L733.47 231.94L726.27 231.94Z"/>
<path d="M731.45 226.31L735.05 232.14L727.85 232.14Z"/>
<path d="M732.83 226.77L736.43 232.6L729.23 232.6Z"/>
<path d="M734.49 230.48L738.09 236.31L730.89 236.31Z"/>
<path d="M735.26 227.17L738.86 233.01L731.66 233.01Z"/>
<path d="M736.73 227.15L740.33 232.98L733.13 232.98Z"/>
<path d="M738.21 229.07L741.81 234.9L734.61 234.9Z"/>
<path d="M739.58 229.14L743.18 234.97L735.98 234.97Z"/>
<path d="M740.55 232.33L744.15 238.16L736.95 238.16Z"/>
<path d="M741.26 229.77L744.86 235.6L737.66 235.6Z"/>
<path d="M742.64 234.42L746.24 240.25L739.04 240.25Z"/>
<path d="M744.31 235.02L747.91 240.86L740.71 240.86Z"/>
<path d="M745.29 233.53L748.89 239.36L741.69 239.36Z"/>
<path d="M746.2 232.37L749.8 238.2L742.6 238.2Z"/>
<path d="M747.13 237.24L750.73 243.07L743.53 243.07Z"/>
<path d="M747.89 236.9L751.49 242.74L744.29 242.74Z"/>
<path d="M749.41 238.64L753.01 244.47L745.81 244.47Z"/>
<path d="M751.33 237.57L754.93 243.4L747.73 243.4Z"/>
<path d="M753.03 240.19L756.63 246.02L749.43 246.02Z"/>
<path d="M754.17 240.62L757.77 246.45L750.57 246.45Z"/>
<path d="M755.76 238.77L759.36 244.6L752.16 244.6Z"/>
<path d="M756.53 240.09L760.13 245.92L752.93 245.92Z"/>
<path d="M758.33 239.48L761.93 245.31L754.73 245.31Z"/>
<path d="M759.45 242.8L763.05 248.63L755.85 248.63Z"/>
<path d="M760.13 241.9L763.73 247.73L756.53 247.73Z"/>
<path d="M761.68 245.99L765.28 251.82L758.08 251.82Z"/>
<path d="M762.56 242.21L766.16 248.04L758.96 248.04Z"/>
<path d="M763.63 246.15L767.23 251.98L760.03 251.98Z"/>
<path d="M764.41 245.53L768.01 251.36L760.81 251.36Z"/>
<path d="M765.73 246.2L769.33 252.03L762.13 252.03Z"/>
<path d="M767.21 245.25L770.81 251.09L763.61 251.09Z"/>
<path d="M769.06 248.36L772.66 254.2L765.46 254.2Z"/>
<path d="M769.84 246.79L773.44 252.62L766.24 252.62Z"/>
<path d="M771.74 249.52L775.34 255.35L768.14 255.35Z"/>
<path d="M772.62 251.67L776.22 257.5L769.02 257.5Z"/>
<path d="M773.68 249.93L777.28 255.76L770.08 255.76Z"/>
<path d="M775.33 253.36L778.93 259.19L771.73 259.19Z"/>
<path d="M776.57 251.2L780.17 257.03L772.97 257.03Z"/>
<path d="M777.81 253.95L781.41 259.78L774.21 259.78Z"/>
<path d="M779.41 255.74L783.01 261.57L775.81 261.57Z"/>
<path d="M780.49 253.9L784.09 259.74L776.89 259.74Z"/>
<path d="M782.45 257.27L786.05 263.11L778.85 263.11Z"/>
<path d="M783.54 257.67L787.14 263.5L779.94 263.5Z"/>
<path d="M785.61 259.14L789.21 264.97L782.01 264.97Z"/>
<path d="M547.68 129.51L551.28 135.34L544.08 135.34Z"/>
<path d="M549.33 205.96L552.93 211.8L545.73 211.8Z"/>
<path d="M572.4 205.22L576 211.05L568.8 211.05Z"/>
<path d="M627.36 205.22L630.96 211.05L623.75 211.05Z"/>
<path d="M676.81 195.57L680.41 201.4L673.21 201.4Z"/>
<path d="M720.77 219.7L724.37 225.53L717.17 225.53Z"/>
<path d="M751.54 233.06L755.14 238.89L747.94 238.89Z"/>
<path d="M468 59.33L471.6 65.17L464.4 65.17Z"/>
<path d="M468.55 58.93L472.15 64.76L464.95 64.76Z"/>
<path d="M469.1 60.11L472.7 65.94L465.5 65.94Z"/>
<path d="M469.65 57.03L473.25 62.86L466.05 62.86Z"/>
<path d="M470.2 60.48L473.8 66.31L466.6 66.31Z"/>
<path d="M470.75 59.69L474.35 65.52L467.15 65.52Z"/>
<path d="M471.3 62.1L474.9 67.93L467.7 67.93Z"/>
<path d="M471.85 60.65L475.45 66.48L468.25 66.48Z"/>
<path d="M472.4 61.72L476 67.56L468.8 67.56Z"/>
<path d="M472.95 62.06L476.55 67.9L469.35 67.9Z"/>
<path d="M473.5 63.98L477.1 69.82L469.89 69.82Z"/>
<path d="M474.04 64.14L477.64 69.98L470.44 69.98Z"/>
<path d="M474.59 61.43L478.19 67.26L470.99 67.26Z"/>
<path d="M475.14 63.96L478.74 69.79L471.54 69.79Z"/>
<path d="M475.69 64.85L479.29 70.69L472.09 70.69Z"/>
<path d="M476.24 65.51L479.84 71.34L472.64 71.34Z"/>
<path d="M476.79 65.51L480.39 71.35L473.19 71.35Z"/>
<path d="M477.34 66.14L480.94 71.97L473.74 71.97Z"/>
<path d="M477.89 67.45L481.49 73.28L474.29 73.28Z"/>
</g>
<path d="M517.46 101.2L521.92 104.21L526.38 107.23L530.84 110.24L535.3 113.25L539.76 116.26L544.22 119.28L548.68 122.29L553.14 125.3L557.6 128.31L562.06 131.33L566.52 134.34L570.98 137.35L575.44 140.36L579.9 143.55L584.36 146.93L588.82 150.32L593.28 153.71L597.74 157.1L602.2 160.12L606.66 162.81L611.12 165.49L615.58 168.17L620.04 170.85L624.5 173.53L628.96 176.22L633.42 178.9L637.88 181.58L642.34 184.47L646.8 187.54L651.26 190.62L655.72 193.69L660.18 196.77L664.64 199.84L669.1 202.7L673.56 205.33L678.02 207.96L682.48 210.6L686.94 213.23L691.4 215.87L695.86 218.5L700.32 221.13L704.78 223.77L709.24 226.4L713.7 229.03L718.16 231.67L722.62 233.48L727.08 235.23L731.54 236.99L736 238.74L740.46 240.49L744.92 242.25L749.38 244L753.84 246.3L758.3 248.8L762.76 251.29L767.22 253.79L771.68 256.28L776.14 258.77L780.6 261.27L785.06 263.76" stroke="#e00000" stroke-width="1.3" fill="none" stroke-dasharray="4.5 1.5 1.2 1.5"/>
<path d="M468 308.3v-3.3M468 48.5v3.3M522.95 308.3v-3.3M522.95 48.5v3.3M577.9 308.3v-3.3M577.9 48.5v3.3M632.85 308.3v-3.3M632.85 48.5v3.3M687.8 308.3v-3.3M687.8 48.5v3.3M742.75 308.3v-3.3M742.75 48.5v3.3M797.7 308.3v-3.3M797.7 48.5v3.3M468 308.3h3.3M797.7 308.3h-3.3M468 271.19h3.3M797.7 271.19h-3.3M468 234.07h3.3M797.7 234.07h-3.3M468 196.96h3.3M797.7 196.96h-3.3M468 159.84h3.3M797.7 159.84h-3.3M468 122.73h3.3M797.7 122.73h-3.3M468 85.61h3.3M797.7 85.61h-3.3M468 48.5h3.3M797.7 48.5h-3.3" stroke="#262626" stroke-width="1.3" fill="none"/>
<rect x="468" y="48.5" width="329.7" height="259.8" fill="none" stroke="#262626" stroke-width="1.4"/>
<rect x="642.4" y="56.3" width="147.4" height="53.3" fill="#fff" stroke="#262626" stroke-width="1.3"/>
<circle cx="660.9" cy="64.1" r="3.1" fill="none" stroke="#2020e0" stroke-width="1.1"/>
<path d="M660.9 72.8L664.6 79.1L657.2 79.1Z" fill="none" stroke="#e02020" stroke-width="1.1"/>
<path d="M645.7 89H676" stroke="#0808e8" stroke-width="1.6"/>
<path d="M645.7 101.9H676" stroke="#d83030" stroke-width="1.6" stroke-dasharray="4.4 1.3 2.4 1.3"/>
<g font-family="Liberation Sans, Arial, sans-serif" font-size="9.2" fill="#0d0d0d" stroke="#0d0d0d" stroke-width="0.22">
<text x="677.9" y="66.9">Ectrolysis mode data</text>
<text x="677.9" y="79.5">Fuel cell mode data</text>
<text x="677.9" y="92.2">Ectrolysis mode simulation</text>
<text x="677.9" y="104.6">Fuel cell mode simulation</text>
</g>
<g font-family="Liberation Sans, Arial, sans-serif" font-size="9.8" fill="#262626">
<text x="468" y="322" text-anchor="middle">0</text>
<text x="522.95" y="322" text-anchor="middle">0.5</text>
<text x="577.9" y="322" text-anchor="middle">1</text>
<text x="632.85" y="322" text-anchor="middle">1.5</text>
<text x="687.8" y="322" text-anchor="middle">2</text>
<text x="742.75" y="322" text-anchor="middle">2.5</text>
<text x="797.7" y="322" text-anchor="middle">3</text>
<text x="461.8" y="311.8" text-anchor="end">0.3</text>
<text x="461.8" y="274.69" text-anchor="end">0.4</text>
<text x="461.8" y="237.57" text-anchor="end">0.5</text>
<text x="461.8" y="200.46" text-anchor="end">0.6</text>
<text x="461.8" y="163.34" text-anchor="end">0.7</text>
<text x="461.8" y="126.23" text-anchor="end">0.8</text>
<text x="461.8" y="89.11" text-anchor="end">0.9</text>
<text x="463.6" y="52" text-anchor="end">1</text>
</g>
<text x="632.85" y="338.5" font-family="Liberation Sans, Arial, sans-serif" font-size="11.2" fill="#262626" text-anchor="middle">current (A)</text>
<text transform="translate(442.7 177.5) rotate(-90)" font-family="Liberation Sans, Arial, sans-serif" font-size="11.2" fill="#262626" text-anchor="middle">V (volt)</text>
<g fill="#111"><rect x="189.5" y="43.5" width="1.6" height="1.6"/><rect x="274.5" y="43.5" width="1.6" height="1.6"/><rect x="576.5" y="43.5" width="1.6" height="1.6"/><rect x="661.3" y="43.5" width="1.6" height="1.6"/><rect x="31.8" y="444.6" width="1.3" height="2"/></g>
<text transform="translate(227.2 368.1) scale(1.04 1)" font-family="Liberation Serif, Times New Roman, serif" font-size="22" fill="#000" text-anchor="middle">(a)</text>
<text x="616.6" y="366.5" font-family="Liberation Serif, Times New Roman, serif" font-size="20" fill="#000" text-anchor="middle">(b)</text>
</svg>
<div class="cap" style="top:375.3px">Figure 1: Comparison between experiments and the present model a) for fuel composition of</div>
<div class="cap c2" style="top:398.2px">50% H<sub>2</sub>, and 50% H<sub>2</sub>O, and for air composition of 5.25% O<sub>2</sub> and 94.75% N<sub>2</sub> b) for fuel</div>
<div class="cap c2" style="top:420.8px">composition of &nbsp;50% H<sub>2</sub>, and 50% H<sub>2</sub>O, &nbsp;and for air composition of 21% O<sub>2</sub> and 94.75% N<sub>2</sub></div>
</body></html>
